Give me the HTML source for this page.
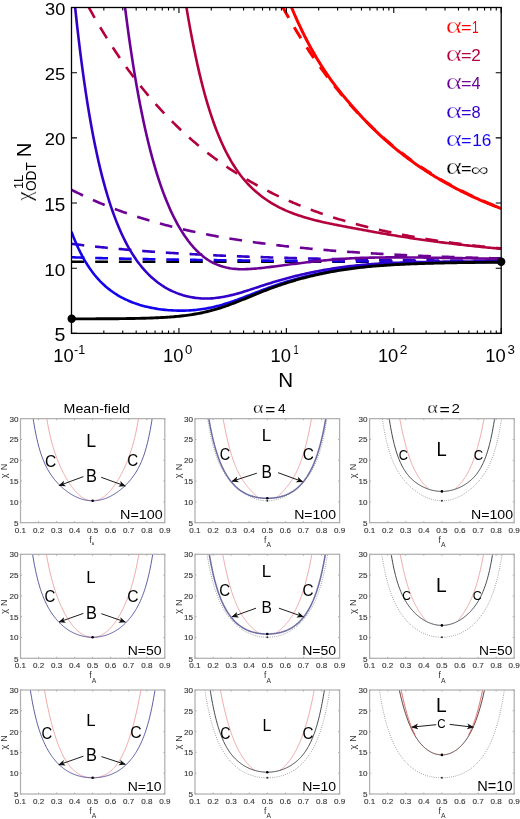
<!DOCTYPE html>
<html lang="en"><head><meta charset="utf-8"><title>Figure</title>
<style>html,body{margin:0;padding:0;background:#fff}svg{display:block}</style></head>
<body>
<svg width="520" height="819" viewBox="0 0 520 819" font-family='"Liberation Sans", sans-serif'>
<rect width="520" height="819" fill="#fff"/>
<defs><clipPath id="ct"><rect x="71.5" y="7.5" width="429.7" height="325.9"/></clipPath></defs>
<g clip-path="url(#ct)" fill="none" stroke-width="2.6">
<path d="M71.5 261.77 L73.16 261.77 L74.82 261.77 L76.48 261.77 L78.14 261.77 L79.8 261.77 L81.45 261.77 L83.11 261.77 L84.77 261.77 L86.43 261.77 L88.09 261.77 L89.75 261.77 L91.41 261.77 L93.07 261.77 L94.73 261.77 L96.39 261.77 L98.05 261.77 L99.7 261.77 L101.36 261.77 L103.02 261.77 L104.68 261.77 L106.34 261.77 L108 261.77 L109.66 261.77 L111.32 261.77 L112.98 261.77 L114.64 261.77 L116.29 261.77 L117.95 261.77 L119.61 261.77 L121.27 261.77 L122.93 261.77 L124.59 261.77 L126.25 261.77 L127.91 261.77 L129.57 261.77 L131.23 261.77 L132.89 261.77 L134.54 261.77 L136.2 261.77 L137.86 261.77 L139.52 261.77 L141.18 261.77 L142.84 261.77 L144.5 261.77 L146.16 261.77 L147.82 261.77 L149.48 261.77 L151.14 261.77 L152.79 261.77 L154.45 261.77 L156.11 261.77 L157.77 261.77 L159.43 261.77 L161.09 261.77 L162.75 261.77 L164.41 261.77 L166.07 261.77 L167.73 261.77 L169.39 261.77 L171.04 261.77 L172.7 261.77 L174.36 261.77 L176.02 261.77 L177.68 261.77 L179.34 261.77 L181 261.77 L182.66 261.77 L184.32 261.77 L185.98 261.77 L187.64 261.77 L189.29 261.77 L190.95 261.77 L192.61 261.77 L194.27 261.77 L195.93 261.77 L197.59 261.77 L199.25 261.77 L200.91 261.77 L202.57 261.77 L204.23 261.77 L205.88 261.77 L207.54 261.77 L209.2 261.77 L210.86 261.77 L212.52 261.77 L214.18 261.77 L215.84 261.77 L217.5 261.77 L219.16 261.77 L220.82 261.77 L222.48 261.77 L224.13 261.77 L225.79 261.77 L227.45 261.77 L229.11 261.77 L230.77 261.77 L232.43 261.77 L234.09 261.77 L235.75 261.77 L237.41 261.77 L239.07 261.77 L240.73 261.77 L242.38 261.77 L244.04 261.77 L245.7 261.77 L247.36 261.77 L249.02 261.77 L250.68 261.77 L252.34 261.77 L254 261.77 L255.66 261.77 L257.32 261.77 L258.98 261.77 L260.63 261.77 L262.29 261.77 L263.95 261.77 L265.61 261.77 L267.27 261.77 L268.93 261.77 L270.59 261.77 L272.25 261.77 L273.91 261.77 L275.57 261.77 L277.23 261.77 L278.88 261.77 L280.54 261.77 L282.2 261.77 L283.86 261.77 L285.52 261.77 L287.18 261.77 L288.84 261.77 L290.5 261.77 L292.16 261.77 L293.82 261.77 L295.47 261.77 L297.13 261.77 L298.79 261.77 L300.45 261.77 L302.11 261.77 L303.77 261.77 L305.43 261.77 L307.09 261.77 L308.75 261.77 L310.41 261.77 L312.07 261.77 L313.72 261.77 L315.38 261.77 L317.04 261.77 L318.7 261.77 L320.36 261.77 L322.02 261.77 L323.68 261.77 L325.34 261.77 L327 261.77 L328.66 261.77 L330.32 261.77 L331.97 261.77 L333.63 261.77 L335.29 261.77 L336.95 261.77 L338.61 261.77 L340.27 261.77 L341.93 261.77 L343.59 261.77 L345.25 261.77 L346.91 261.77 L348.57 261.77 L350.22 261.77 L351.88 261.77 L353.54 261.77 L355.2 261.77 L356.86 261.77 L358.52 261.77 L360.18 261.77 L361.84 261.77 L363.5 261.77 L365.16 261.77 L366.82 261.77 L368.47 261.77 L370.13 261.77 L371.79 261.77 L373.45 261.77 L375.11 261.77 L376.77 261.77 L378.43 261.77 L380.09 261.77 L381.75 261.77 L383.41 261.77 L385.06 261.77 L386.72 261.77 L388.38 261.77 L390.04 261.77 L391.7 261.77 L393.36 261.77 L395.02 261.77 L396.68 261.77 L398.34 261.77 L400 261.77 L401.66 261.77 L403.31 261.77 L404.97 261.77 L406.63 261.77 L408.29 261.77 L409.95 261.77 L411.61 261.77 L413.27 261.77 L414.93 261.77 L416.59 261.77 L418.25 261.77 L419.91 261.77 L421.56 261.77 L423.22 261.77 L424.88 261.77 L426.54 261.77 L428.2 261.77 L429.86 261.77 L431.52 261.77 L433.18 261.77 L434.84 261.77 L436.5 261.77 L438.16 261.77 L439.81 261.77 L441.47 261.77 L443.13 261.77 L444.79 261.77 L446.45 261.77 L448.11 261.77 L449.77 261.77 L451.43 261.77 L453.09 261.77 L454.75 261.77 L456.41 261.77 L458.06 261.77 L459.72 261.77 L461.38 261.77 L463.04 261.77 L464.7 261.77 L466.36 261.77 L468.02 261.77 L469.68 261.77 L471.34 261.77 L473 261.77 L474.65 261.77 L476.31 261.77 L477.97 261.77 L479.63 261.77 L481.29 261.77 L482.95 261.77 L484.61 261.77 L486.27 261.77 L487.93 261.77 L489.59 261.77 L491.25 261.77 L492.9 261.77 L494.56 261.77 L496.22 261.77 L497.88 261.77 L499.54 261.77 L501.2 261.77" stroke="#000000" stroke-dasharray="12.8 10.9" stroke-dashoffset="0"/>
<path d="M71.5 257.27 L73.16 257.32 L74.82 257.37 L76.48 257.43 L78.14 257.48 L79.8 257.53 L81.45 257.58 L83.11 257.63 L84.77 257.68 L86.43 257.72 L88.09 257.77 L89.75 257.82 L91.41 257.87 L93.07 257.91 L94.73 257.96 L96.39 258 L98.05 258.05 L99.7 258.09 L101.36 258.13 L103.02 258.18 L104.68 258.22 L106.34 258.26 L108 258.3 L109.66 258.34 L111.32 258.38 L112.98 258.42 L114.64 258.46 L116.29 258.5 L117.95 258.54 L119.61 258.58 L121.27 258.62 L122.93 258.65 L124.59 258.69 L126.25 258.73 L127.91 258.76 L129.57 258.8 L131.23 258.83 L132.89 258.87 L134.54 258.9 L136.2 258.93 L137.86 258.97 L139.52 259 L141.18 259.03 L142.84 259.07 L144.5 259.1 L146.16 259.13 L147.82 259.16 L149.48 259.19 L151.14 259.22 L152.79 259.25 L154.45 259.28 L156.11 259.31 L157.77 259.34 L159.43 259.37 L161.09 259.4 L162.75 259.42 L164.41 259.45 L166.07 259.48 L167.73 259.51 L169.39 259.53 L171.04 259.56 L172.7 259.58 L174.36 259.61 L176.02 259.64 L177.68 259.66 L179.34 259.69 L181 259.71 L182.66 259.73 L184.32 259.76 L185.98 259.78 L187.64 259.81 L189.29 259.83 L190.95 259.85 L192.61 259.87 L194.27 259.9 L195.93 259.92 L197.59 259.94 L199.25 259.96 L200.91 259.98 L202.57 260 L204.23 260.02 L205.88 260.05 L207.54 260.07 L209.2 260.09 L210.86 260.11 L212.52 260.12 L214.18 260.14 L215.84 260.16 L217.5 260.18 L219.16 260.2 L220.82 260.22 L222.48 260.24 L224.13 260.26 L225.79 260.27 L227.45 260.29 L229.11 260.31 L230.77 260.33 L232.43 260.34 L234.09 260.36 L235.75 260.38 L237.41 260.39 L239.07 260.41 L240.73 260.42 L242.38 260.44 L244.04 260.46 L245.7 260.47 L247.36 260.49 L249.02 260.5 L250.68 260.52 L252.34 260.53 L254 260.55 L255.66 260.56 L257.32 260.57 L258.98 260.59 L260.63 260.6 L262.29 260.62 L263.95 260.63 L265.61 260.64 L267.27 260.66 L268.93 260.67 L270.59 260.68 L272.25 260.7 L273.91 260.71 L275.57 260.72 L277.23 260.73 L278.88 260.75 L280.54 260.76 L282.2 260.77 L283.86 260.78 L285.52 260.79 L287.18 260.8 L288.84 260.82 L290.5 260.83 L292.16 260.84 L293.82 260.85 L295.47 260.86 L297.13 260.87 L298.79 260.88 L300.45 260.89 L302.11 260.9 L303.77 260.91 L305.43 260.92 L307.09 260.93 L308.75 260.94 L310.41 260.95 L312.07 260.96 L313.72 260.97 L315.38 260.98 L317.04 260.99 L318.7 261 L320.36 261.01 L322.02 261.02 L323.68 261.02 L325.34 261.03 L327 261.04 L328.66 261.05 L330.32 261.06 L331.97 261.07 L333.63 261.08 L335.29 261.08 L336.95 261.09 L338.61 261.1 L340.27 261.11 L341.93 261.12 L343.59 261.12 L345.25 261.13 L346.91 261.14 L348.57 261.15 L350.22 261.15 L351.88 261.16 L353.54 261.17 L355.2 261.17 L356.86 261.18 L358.52 261.19 L360.18 261.2 L361.84 261.2 L363.5 261.21 L365.16 261.22 L366.82 261.22 L368.47 261.23 L370.13 261.23 L371.79 261.24 L373.45 261.25 L375.11 261.25 L376.77 261.26 L378.43 261.27 L380.09 261.27 L381.75 261.28 L383.41 261.28 L385.06 261.29 L386.72 261.29 L388.38 261.3 L390.04 261.31 L391.7 261.31 L393.36 261.32 L395.02 261.32 L396.68 261.33 L398.34 261.33 L400 261.34 L401.66 261.34 L403.31 261.35 L404.97 261.35 L406.63 261.36 L408.29 261.36 L409.95 261.37 L411.61 261.37 L413.27 261.38 L414.93 261.38 L416.59 261.39 L418.25 261.39 L419.91 261.39 L421.56 261.4 L423.22 261.4 L424.88 261.41 L426.54 261.41 L428.2 261.42 L429.86 261.42 L431.52 261.42 L433.18 261.43 L434.84 261.43 L436.5 261.44 L438.16 261.44 L439.81 261.44 L441.47 261.45 L443.13 261.45 L444.79 261.45 L446.45 261.46 L448.11 261.46 L449.77 261.47 L451.43 261.47 L453.09 261.47 L454.75 261.48 L456.41 261.48 L458.06 261.48 L459.72 261.49 L461.38 261.49 L463.04 261.49 L464.7 261.5 L466.36 261.5 L468.02 261.5 L469.68 261.51 L471.34 261.51 L473 261.51 L474.65 261.51 L476.31 261.52 L477.97 261.52 L479.63 261.52 L481.29 261.53 L482.95 261.53 L484.61 261.53 L486.27 261.53 L487.93 261.54 L489.59 261.54 L491.25 261.54 L492.9 261.55 L494.56 261.55 L496.22 261.55 L497.88 261.55 L499.54 261.56 L501.2 261.56" stroke="#1404ee" stroke-dasharray="12.8 10.9" stroke-dashoffset="0"/>
<path d="M71.5 243.78 L73.16 243.99 L74.82 244.2 L76.48 244.4 L78.14 244.61 L79.8 244.81 L81.45 245.01 L83.11 245.21 L84.77 245.4 L86.43 245.6 L88.09 245.79 L89.75 245.97 L91.41 246.16 L93.07 246.34 L94.73 246.53 L96.39 246.71 L98.05 246.88 L99.7 247.06 L101.36 247.23 L103.02 247.4 L104.68 247.57 L106.34 247.74 L108 247.91 L109.66 248.07 L111.32 248.23 L112.98 248.39 L114.64 248.55 L116.29 248.7 L117.95 248.86 L119.61 249.01 L121.27 249.16 L122.93 249.31 L124.59 249.45 L126.25 249.6 L127.91 249.74 L129.57 249.88 L131.23 250.02 L132.89 250.16 L134.54 250.3 L136.2 250.44 L137.86 250.57 L139.52 250.7 L141.18 250.83 L142.84 250.96 L144.5 251.09 L146.16 251.21 L147.82 251.34 L149.48 251.46 L151.14 251.58 L152.79 251.7 L154.45 251.82 L156.11 251.94 L157.77 252.05 L159.43 252.17 L161.09 252.28 L162.75 252.39 L164.41 252.5 L166.07 252.61 L167.73 252.72 L169.39 252.83 L171.04 252.93 L172.7 253.04 L174.36 253.14 L176.02 253.24 L177.68 253.34 L179.34 253.44 L181 253.54 L182.66 253.64 L184.32 253.73 L185.98 253.83 L187.64 253.92 L189.29 254.01 L190.95 254.1 L192.61 254.19 L194.27 254.28 L195.93 254.37 L197.59 254.46 L199.25 254.54 L200.91 254.63 L202.57 254.71 L204.23 254.8 L205.88 254.88 L207.54 254.96 L209.2 255.04 L210.86 255.12 L212.52 255.2 L214.18 255.28 L215.84 255.35 L217.5 255.43 L219.16 255.5 L220.82 255.58 L222.48 255.65 L224.13 255.72 L225.79 255.79 L227.45 255.86 L229.11 255.93 L230.77 256 L232.43 256.07 L234.09 256.14 L235.75 256.2 L237.41 256.27 L239.07 256.33 L240.73 256.4 L242.38 256.46 L244.04 256.52 L245.7 256.58 L247.36 256.65 L249.02 256.71 L250.68 256.77 L252.34 256.82 L254 256.88 L255.66 256.94 L257.32 257 L258.98 257.05 L260.63 257.11 L262.29 257.16 L263.95 257.22 L265.61 257.27 L267.27 257.32 L268.93 257.38 L270.59 257.43 L272.25 257.48 L273.91 257.53 L275.57 257.58 L277.23 257.63 L278.88 257.68 L280.54 257.73 L282.2 257.77 L283.86 257.82 L285.52 257.87 L287.18 257.91 L288.84 257.96 L290.5 258 L292.16 258.05 L293.82 258.09 L295.47 258.14 L297.13 258.18 L298.79 258.22 L300.45 258.26 L302.11 258.3 L303.77 258.34 L305.43 258.38 L307.09 258.42 L308.75 258.46 L310.41 258.5 L312.07 258.54 L313.72 258.58 L315.38 258.62 L317.04 258.65 L318.7 258.69 L320.36 258.73 L322.02 258.76 L323.68 258.8 L325.34 258.83 L327 258.87 L328.66 258.9 L330.32 258.94 L331.97 258.97 L333.63 259 L335.29 259.03 L336.95 259.07 L338.61 259.1 L340.27 259.13 L341.93 259.16 L343.59 259.19 L345.25 259.22 L346.91 259.25 L348.57 259.28 L350.22 259.31 L351.88 259.34 L353.54 259.37 L355.2 259.4 L356.86 259.42 L358.52 259.45 L360.18 259.48 L361.84 259.51 L363.5 259.53 L365.16 259.56 L366.82 259.59 L368.47 259.61 L370.13 259.64 L371.79 259.66 L373.45 259.69 L375.11 259.71 L376.77 259.74 L378.43 259.76 L380.09 259.78 L381.75 259.81 L383.41 259.83 L385.06 259.85 L386.72 259.88 L388.38 259.9 L390.04 259.92 L391.7 259.94 L393.36 259.96 L395.02 259.98 L396.68 260 L398.34 260.03 L400 260.05 L401.66 260.07 L403.31 260.09 L404.97 260.11 L406.63 260.13 L408.29 260.15 L409.95 260.16 L411.61 260.18 L413.27 260.2 L414.93 260.22 L416.59 260.24 L418.25 260.26 L419.91 260.27 L421.56 260.29 L423.22 260.31 L424.88 260.33 L426.54 260.34 L428.2 260.36 L429.86 260.38 L431.52 260.39 L433.18 260.41 L434.84 260.43 L436.5 260.44 L438.16 260.46 L439.81 260.47 L441.47 260.49 L443.13 260.5 L444.79 260.52 L446.45 260.53 L448.11 260.55 L449.77 260.56 L451.43 260.58 L453.09 260.59 L454.75 260.6 L456.41 260.62 L458.06 260.63 L459.72 260.64 L461.38 260.66 L463.04 260.67 L464.7 260.68 L466.36 260.7 L468.02 260.71 L469.68 260.72 L471.34 260.73 L473 260.75 L474.65 260.76 L476.31 260.77 L477.97 260.78 L479.63 260.79 L481.29 260.8 L482.95 260.82 L484.61 260.83 L486.27 260.84 L487.93 260.85 L489.59 260.86 L491.25 260.87 L492.9 260.88 L494.56 260.89 L496.22 260.9 L497.88 260.91 L499.54 260.92 L501.2 260.93" stroke="#3200c8" stroke-dasharray="12.8 10.9" stroke-dashoffset="0"/>
<path d="M71.5 189.8 L73.16 190.65 L74.82 191.48 L76.48 192.31 L78.14 193.13 L79.8 193.94 L81.45 194.74 L83.11 195.53 L84.77 196.31 L86.43 197.08 L88.09 197.84 L89.75 198.6 L91.41 199.34 L93.07 200.08 L94.73 200.8 L96.39 201.52 L98.05 202.23 L99.7 202.93 L101.36 203.63 L103.02 204.31 L104.68 204.99 L106.34 205.66 L108 206.32 L109.66 206.97 L111.32 207.62 L112.98 208.26 L114.64 208.89 L116.29 209.51 L117.95 210.13 L119.61 210.73 L121.27 211.34 L122.93 211.93 L124.59 212.52 L126.25 213.1 L127.91 213.67 L129.57 214.24 L131.23 214.8 L132.89 215.35 L134.54 215.9 L136.2 216.44 L137.86 216.97 L139.52 217.5 L141.18 218.02 L142.84 218.54 L144.5 219.05 L146.16 219.55 L147.82 220.05 L149.48 220.54 L151.14 221.03 L152.79 221.51 L154.45 221.98 L156.11 222.45 L157.77 222.91 L159.43 223.37 L161.09 223.82 L162.75 224.27 L164.41 224.71 L166.07 225.15 L167.73 225.58 L169.39 226.01 L171.04 226.43 L172.7 226.84 L174.36 227.26 L176.02 227.66 L177.68 228.06 L179.34 228.46 L181 228.85 L182.66 229.24 L184.32 229.62 L185.98 230 L187.64 230.38 L189.29 230.75 L190.95 231.11 L192.61 231.47 L194.27 231.83 L195.93 232.18 L197.59 232.53 L199.25 232.88 L200.91 233.22 L202.57 233.55 L204.23 233.89 L205.88 234.22 L207.54 234.54 L209.2 234.86 L210.86 235.18 L212.52 235.49 L214.18 235.8 L215.84 236.11 L217.5 236.41 L219.16 236.71 L220.82 237 L222.48 237.29 L224.13 237.58 L225.79 237.87 L227.45 238.15 L229.11 238.43 L230.77 238.7 L232.43 238.98 L234.09 239.24 L235.75 239.51 L237.41 239.77 L239.07 240.03 L240.73 240.29 L242.38 240.54 L244.04 240.79 L245.7 241.04 L247.36 241.28 L249.02 241.52 L250.68 241.76 L252.34 242 L254 242.23 L255.66 242.46 L257.32 242.69 L258.98 242.91 L260.63 243.13 L262.29 243.35 L263.95 243.57 L265.61 243.79 L267.27 244 L268.93 244.21 L270.59 244.41 L272.25 244.62 L273.91 244.82 L275.57 245.02 L277.23 245.22 L278.88 245.41 L280.54 245.61 L282.2 245.8 L283.86 245.98 L285.52 246.17 L287.18 246.35 L288.84 246.54 L290.5 246.71 L292.16 246.89 L293.82 247.07 L295.47 247.24 L297.13 247.41 L298.79 247.58 L300.45 247.75 L302.11 247.91 L303.77 248.08 L305.43 248.24 L307.09 248.4 L308.75 248.55 L310.41 248.71 L312.07 248.86 L313.72 249.02 L315.38 249.17 L317.04 249.32 L318.7 249.46 L320.36 249.61 L322.02 249.75 L323.68 249.89 L325.34 250.03 L327 250.17 L328.66 250.31 L330.32 250.44 L331.97 250.58 L333.63 250.71 L335.29 250.84 L336.95 250.97 L338.61 251.09 L340.27 251.22 L341.93 251.34 L343.59 251.47 L345.25 251.59 L346.91 251.71 L348.57 251.83 L350.22 251.94 L351.88 252.06 L353.54 252.17 L355.2 252.29 L356.86 252.4 L358.52 252.51 L360.18 252.62 L361.84 252.73 L363.5 252.83 L365.16 252.94 L366.82 253.04 L368.47 253.14 L370.13 253.25 L371.79 253.35 L373.45 253.45 L375.11 253.54 L376.77 253.64 L378.43 253.74 L380.09 253.83 L381.75 253.92 L383.41 254.02 L385.06 254.11 L386.72 254.2 L388.38 254.29 L390.04 254.38 L391.7 254.46 L393.36 254.55 L395.02 254.63 L396.68 254.72 L398.34 254.8 L400 254.88 L401.66 254.96 L403.31 255.04 L404.97 255.12 L406.63 255.2 L408.29 255.28 L409.95 255.36 L411.61 255.43 L413.27 255.51 L414.93 255.58 L416.59 255.65 L418.25 255.72 L419.91 255.8 L421.56 255.87 L423.22 255.94 L424.88 256 L426.54 256.07 L428.2 256.14 L429.86 256.21 L431.52 256.27 L433.18 256.34 L434.84 256.4 L436.5 256.46 L438.16 256.53 L439.81 256.59 L441.47 256.65 L443.13 256.71 L444.79 256.77 L446.45 256.83 L448.11 256.89 L449.77 256.94 L451.43 257 L453.09 257.06 L454.75 257.11 L456.41 257.17 L458.06 257.22 L459.72 257.27 L461.38 257.33 L463.04 257.38 L464.7 257.43 L466.36 257.48 L468.02 257.53 L469.68 257.58 L471.34 257.63 L473 257.68 L474.65 257.73 L476.31 257.78 L477.97 257.82 L479.63 257.87 L481.29 257.92 L482.95 257.96 L484.61 258.01 L486.27 258.05 L487.93 258.09 L489.59 258.14 L491.25 258.18 L492.9 258.22 L494.56 258.26 L496.22 258.31 L497.88 258.35 L499.54 258.39 L501.2 258.43" stroke="#6c0094" stroke-dasharray="12.8 10.9" stroke-dashoffset="0"/>
<path d="M88.87 7.5 L90.47 10.38 L92.06 13.22 L93.65 16.03 L95.24 18.81 L96.83 21.56 L98.43 24.27 L100.02 26.96 L101.61 29.62 L103.2 32.24 L104.79 34.84 L106.39 37.4 L107.98 39.94 L109.57 42.45 L111.16 44.93 L112.75 47.38 L114.35 49.81 L115.94 52.21 L117.53 54.58 L119.12 56.92 L120.71 59.24 L122.31 61.53 L123.9 63.79 L125.49 66.03 L127.08 68.24 L128.67 70.43 L130.27 72.6 L131.86 74.74 L133.45 76.85 L135.04 78.94 L136.63 81.01 L138.23 83.05 L139.82 85.08 L141.41 87.07 L143 89.05 L144.59 91 L146.19 92.93 L147.78 94.84 L149.37 96.73 L150.96 98.6 L152.55 100.44 L154.15 102.27 L155.74 104.07 L157.33 105.86 L158.92 107.62 L160.51 109.36 L162.11 111.09 L163.7 112.79 L165.29 114.48 L166.88 116.14 L168.47 117.79 L170.07 119.42 L171.66 121.03 L173.25 122.62 L174.84 124.19 L176.43 125.75 L178.03 127.29 L179.62 128.81 L181.21 130.31 L182.8 131.8 L184.39 133.27 L185.99 134.72 L187.58 136.16 L189.17 137.58 L190.76 138.98 L192.35 140.37 L193.95 141.75 L195.54 143.1 L197.13 144.44 L198.72 145.77 L200.31 147.08 L201.91 148.38 L203.5 149.66 L205.09 150.93 L206.68 152.18 L208.27 153.42 L209.87 154.65 L211.46 155.86 L213.05 157.06 L214.64 158.24 L216.23 159.41 L217.83 160.57 L219.42 161.72 L221.01 162.85 L222.6 163.97 L224.19 165.07 L225.79 166.17 L227.38 167.25 L228.97 168.32 L230.56 169.37 L232.15 170.42 L233.75 171.45 L235.34 172.47 L236.93 173.48 L238.52 174.48 L240.11 175.47 L241.71 176.44 L243.3 177.41 L244.89 178.36 L246.48 179.31 L248.07 180.24 L249.67 181.16 L251.26 182.07 L252.85 182.97 L254.44 183.87 L256.03 184.75 L257.63 185.62 L259.22 186.48 L260.81 187.33 L262.4 188.17 L263.99 189 L265.59 189.83 L267.18 190.64 L268.77 191.45 L270.36 192.24 L271.95 193.03 L273.55 193.81 L275.14 194.57 L276.73 195.33 L278.32 196.08 L279.91 196.83 L281.51 197.56 L283.1 198.29 L284.69 199.01 L286.28 199.72 L287.87 200.42 L289.47 201.11 L291.06 201.8 L292.65 202.48 L294.24 203.15 L295.83 203.81 L297.43 204.47 L299.02 205.11 L300.61 205.75 L302.2 206.39 L303.79 207.01 L305.39 207.63 L306.98 208.25 L308.57 208.85 L310.16 209.45 L311.75 210.04 L313.35 210.63 L314.94 211.2 L316.53 211.78 L318.12 212.34 L319.71 212.9 L321.3 213.45 L322.9 214 L324.49 214.54 L326.08 215.07 L327.67 215.6 L329.26 216.12 L330.86 216.64 L332.45 217.15 L334.04 217.66 L335.63 218.15 L337.22 218.65 L338.82 219.14 L340.41 219.62 L342 220.09 L343.59 220.57 L345.18 221.03 L346.78 221.49 L348.37 221.95 L349.96 222.4 L351.55 222.84 L353.14 223.28 L354.74 223.72 L356.33 224.15 L357.92 224.57 L359.51 225 L361.1 225.41 L362.7 225.82 L364.29 226.23 L365.88 226.63 L367.47 227.03 L369.06 227.42 L370.66 227.81 L372.25 228.19 L373.84 228.57 L375.43 228.95 L377.02 229.32 L378.62 229.69 L380.21 230.05 L381.8 230.41 L383.39 230.76 L384.98 231.11 L386.58 231.46 L388.17 231.8 L389.76 232.14 L391.35 232.48 L392.94 232.81 L394.54 233.14 L396.13 233.46 L397.72 233.78 L399.31 234.1 L400.9 234.41 L402.5 234.72 L404.09 235.02 L405.68 235.33 L407.27 235.63 L408.86 235.92 L410.46 236.21 L412.05 236.5 L413.64 236.79 L415.23 237.07 L416.82 237.35 L418.42 237.63 L420.01 237.9 L421.6 238.17 L423.19 238.44 L424.78 238.7 L426.38 238.96 L427.97 239.22 L429.56 239.47 L431.15 239.73 L432.74 239.98 L434.34 240.22 L435.93 240.47 L437.52 240.71 L439.11 240.95 L440.7 241.18 L442.3 241.41 L443.89 241.64 L445.48 241.87 L447.07 242.1 L448.66 242.32 L450.26 242.54 L451.85 242.76 L453.44 242.97 L455.03 243.18 L456.62 243.39 L458.22 243.6 L459.81 243.81 L461.4 244.01 L462.99 244.21 L464.58 244.41 L466.18 244.61 L467.77 244.8 L469.36 244.99 L470.95 245.18 L472.54 245.37 L474.14 245.55 L475.73 245.74 L477.32 245.92 L478.91 246.1 L480.5 246.28 L482.1 246.45 L483.69 246.62 L485.28 246.8 L486.87 246.96 L488.46 247.13 L490.06 247.3 L491.65 247.46 L493.24 247.62 L494.83 247.78 L496.42 247.94 L498.02 248.1 L499.61 248.25 L501.2 248.41" stroke="#b4003c" stroke-dasharray="12.8 10.9" stroke-dashoffset="0.9"/>
<path d="M282.9 7.5 L283.75 9.03 L284.59 10.54 L285.43 12.05 L286.27 13.55 L287.12 15.04 L287.96 16.52 L288.8 18 L289.65 19.46 L290.49 20.91 L291.33 22.36 L292.17 23.8 L293.02 25.23 L293.86 26.65 L294.7 28.06 L295.55 29.46 L296.39 30.86 L297.23 32.24 L298.07 33.62 L298.92 34.99 L299.76 36.35 L300.6 37.7 L301.45 39.05 L302.29 40.39 L303.13 41.72 L303.97 43.04 L304.82 44.35 L305.66 45.66 L306.5 46.95 L307.35 48.24 L308.19 49.53 L309.03 50.8 L309.87 52.07 L310.72 53.33 L311.56 54.58 L312.4 55.82 L313.25 57.06 L314.09 58.29 L314.93 59.51 L315.77 60.72 L316.62 61.93 L317.46 63.13 L318.3 64.32 L319.15 65.51 L319.99 66.69 L320.83 67.86 L321.67 69.02 L322.52 70.18 L323.36 71.33 L324.2 72.47 L325.05 73.61 L325.89 74.74 L326.73 75.86 L327.57 76.98 L328.42 78.09 L329.26 79.19 L330.1 80.29 L330.95 81.37 L331.79 82.46 L332.63 83.53 L333.47 84.6 L334.32 85.67 L335.16 86.73 L336 87.78 L336.85 88.82 L337.69 89.86 L338.53 90.89 L339.37 91.92 L340.22 92.94 L341.06 93.95 L341.9 94.96 L342.75 95.96 L343.59 96.96 L344.43 97.94 L345.27 98.93 L346.12 99.91 L346.96 100.88 L347.8 101.84 L348.65 102.8 L349.49 103.76 L350.33 104.71 L351.17 105.65 L352.02 106.59 L352.86 107.52 L353.7 108.44 L354.54 109.37 L355.39 110.28 L356.23 111.19 L357.07 112.09 L357.92 112.99 L358.76 113.89 L359.6 114.77 L360.44 115.66 L361.29 116.53 L362.13 117.41 L362.97 118.27 L363.82 119.13 L364.66 119.99 L365.5 120.84 L366.34 121.69 L367.19 122.53 L368.03 123.36 L368.87 124.2 L369.72 125.02 L370.56 125.84 L371.4 126.66 L372.24 127.47 L373.09 128.28 L373.93 129.08 L374.77 129.87 L375.62 130.67 L376.46 131.45 L377.3 132.24 L378.14 133.01 L378.99 133.79 L379.83 134.55 L380.67 135.32 L381.52 136.08 L382.36 136.83 L383.2 137.58 L384.04 138.33 L384.89 139.07 L385.73 139.81 L386.57 140.54 L387.42 141.27 L388.26 141.99 L389.1 142.71 L389.94 143.42 L390.79 144.13 L391.63 144.84 L392.47 145.54 L393.32 146.24 L394.16 146.93 L395 147.62 L395.84 148.31 L396.69 148.99 L397.53 149.67 L398.37 150.34 L399.22 151.01 L400.06 151.67 L400.9 152.33 L401.74 152.99 L402.59 153.64 L403.43 154.29 L404.27 154.94 L405.12 155.58 L405.96 156.22 L406.8 156.85 L407.64 157.48 L408.49 158.11 L409.33 158.73 L410.17 159.35 L411.02 159.96 L411.86 160.57 L412.7 161.18 L413.54 161.79 L414.39 162.39 L415.23 162.98 L416.07 163.58 L416.92 164.17 L417.76 164.75 L418.6 165.33 L419.44 165.91 L420.29 166.49 L421.13 167.06 L421.97 167.63 L422.82 168.19 L423.66 168.76 L424.5 169.31 L425.34 169.87 L426.19 170.42 L427.03 170.97 L427.87 171.51 L428.72 172.06 L429.56 172.6 L430.4 173.13 L431.24 173.66 L432.09 174.19 L432.93 174.72 L433.77 175.24 L434.62 175.76 L435.46 176.28 L436.3 176.79 L437.14 177.3 L437.99 177.81 L438.83 178.31 L439.67 178.81 L440.52 179.31 L441.36 179.8 L442.2 180.3 L443.04 180.79 L443.89 181.27 L444.73 181.76 L445.57 182.24 L446.42 182.71 L447.26 183.19 L448.1 183.66 L448.94 184.13 L449.79 184.59 L450.63 185.06 L451.47 185.52 L452.31 185.98 L453.16 186.43 L454 186.88 L454.84 187.33 L455.69 187.78 L456.53 188.22 L457.37 188.67 L458.21 189.11 L459.06 189.54 L459.9 189.97 L460.74 190.41 L461.59 190.83 L462.43 191.26 L463.27 191.68 L464.11 192.1 L464.96 192.52 L465.8 192.94 L466.64 193.35 L467.49 193.76 L468.33 194.17 L469.17 194.58 L470.01 194.98 L470.86 195.38 L471.7 195.78 L472.54 196.18 L473.39 196.57 L474.23 196.96 L475.07 197.35 L475.91 197.74 L476.76 198.12 L477.6 198.5 L478.44 198.88 L479.29 199.26 L480.13 199.64 L480.97 200.01 L481.81 200.38 L482.66 200.75 L483.5 201.11 L484.34 201.48 L485.19 201.84 L486.03 202.2 L486.87 202.56 L487.71 202.91 L488.56 203.27 L489.4 203.62 L490.24 203.97 L491.09 204.31 L491.93 204.66 L492.77 205 L493.61 205.34 L494.46 205.68 L495.3 206.02 L496.14 206.35 L496.99 206.69 L497.83 207.02 L498.67 207.35 L499.51 207.67 L500.36 208 L501.2 208.32" stroke="#ff0000" stroke-dasharray="12.8 10.9" stroke-dashoffset="0.9" stroke-width="3"/>
<path d="M276.46 -35.22 L278.26 -29.49 L280.06 -23.96 L281.86 -18.6 L283.65 -13.42 L285.45 -8.42 L287.25 -3.57 L289.05 1.1 L290.84 5.62 L292.64 10 L294.44 14.23 L296.24 18.35 L298.04 22.34 L299.83 26.23 L301.63 30.01 L303.43 33.68 L305.23 37.26 L307.03 40.75 L308.82 44.14 L310.62 47.46 L312.42 50.69 L314.22 53.85 L316.02 56.93 L317.81 59.94 L319.61 62.89 L321.41 65.76 L323.21 68.55 L325.01 71.27 L326.8 73.92 L328.6 76.51 L330.4 79.04 L332.2 81.52 L333.99 83.94 L335.79 86.31 L337.59 88.64 L339.39 90.93 L341.19 93.18 L342.98 95.39 L344.78 97.57 L346.58 99.71 L348.38 101.83 L350.18 103.91 L351.97 105.98 L353.77 108.01 L355.57 110.03 L357.37 112.03 L359.17 114.01 L360.96 115.97 L362.76 117.91 L364.56 119.82 L366.36 121.7 L368.15 123.56 L369.95 125.38 L371.75 127.18 L373.55 128.95 L375.35 130.7 L377.14 132.42 L378.94 134.11 L380.74 135.78 L382.54 137.43 L384.34 139.05 L386.13 140.65 L387.93 142.23 L389.73 143.78 L391.53 145.32 L393.33 146.83 L395.12 148.32 L396.92 149.79 L398.72 151.23 L400.52 152.66 L402.32 154.07 L404.11 155.46 L405.91 156.83 L407.71 158.18 L409.51 159.52 L411.3 160.83 L413.1 162.13 L414.9 163.41 L416.7 164.67 L418.5 165.92 L420.29 167.15 L422.09 168.36 L423.89 169.55 L425.69 170.73 L427.49 171.9 L429.28 173.05 L431.08 174.18 L432.88 175.3 L434.68 176.41 L436.48 177.49 L438.27 178.57 L440.07 179.63 L441.87 180.68 L443.67 181.71 L445.46 182.73 L447.26 183.74 L449.06 184.73 L450.86 185.71 L452.66 186.68 L454.45 187.64 L456.25 188.58 L458.05 189.51 L459.85 190.43 L461.65 191.34 L463.44 192.23 L465.24 193.12 L467.04 193.99 L468.84 194.85 L470.64 195.7 L472.43 196.54 L474.23 197.37 L476.03 198.19 L477.83 198.99 L479.63 199.79 L481.42 200.58 L483.22 201.36 L485.02 202.12 L486.82 202.88 L488.61 203.63 L490.41 204.37 L492.21 205.09 L494.01 205.81 L495.81 206.52 L497.6 207.23 L499.4 207.92 L501.2 208.6" stroke="#ff0000" stroke-width="3.0" stroke-linejoin="round"/>
<path d="M179.37 -38.88 L181.17 -26.33 L182.97 -14.33 L184.77 -2.85 L186.57 8.13 L188.36 18.62 L190.16 28.63 L191.96 38.18 L193.76 47.3 L195.56 55.98 L197.35 64.25 L199.15 72.12 L200.95 79.6 L202.75 86.72 L204.55 93.47 L206.34 99.87 L208.14 105.94 L209.94 111.69 L211.74 117.12 L213.53 122.28 L215.33 127.2 L217.13 131.87 L218.93 136.31 L220.73 140.53 L222.52 144.54 L224.32 148.35 L226.12 151.98 L227.92 155.42 L229.72 158.7 L231.51 161.81 L233.31 164.76 L235.11 167.57 L236.91 170.24 L238.71 172.78 L240.5 175.19 L242.3 177.49 L244.1 179.67 L245.9 181.75 L247.69 183.73 L249.49 185.61 L251.29 187.41 L253.09 189.13 L254.89 190.77 L256.68 192.34 L258.48 193.84 L260.28 195.28 L262.08 196.67 L263.88 198 L265.67 199.27 L267.47 200.49 L269.27 201.67 L271.07 202.79 L272.87 203.88 L274.66 204.92 L276.46 205.91 L278.26 206.87 L280.06 207.79 L281.86 208.67 L283.65 209.52 L285.45 210.33 L287.25 211.11 L289.05 211.86 L290.84 212.58 L292.64 213.26 L294.44 213.92 L296.24 214.56 L298.04 215.18 L299.83 215.78 L301.63 216.36 L303.43 216.92 L305.23 217.46 L307.03 217.99 L308.82 218.5 L310.62 219 L312.42 219.48 L314.22 219.96 L316.02 220.42 L317.81 220.87 L319.61 221.31 L321.41 221.74 L323.21 222.15 L325.01 222.55 L326.8 222.95 L328.6 223.33 L330.4 223.71 L332.2 224.07 L333.99 224.44 L335.79 224.79 L337.59 225.14 L339.39 225.49 L341.19 225.83 L342.98 226.17 L344.78 226.51 L346.58 226.85 L348.38 227.18 L350.18 227.52 L351.97 227.85 L353.77 228.19 L355.57 228.52 L357.37 228.86 L359.17 229.19 L360.96 229.53 L362.76 229.87 L364.56 230.21 L366.36 230.54 L368.15 230.87 L369.95 231.2 L371.75 231.53 L373.55 231.85 L375.35 232.17 L377.14 232.49 L378.94 232.81 L380.74 233.13 L382.54 233.44 L384.34 233.75 L386.13 234.06 L387.93 234.37 L389.73 234.67 L391.53 234.98 L393.33 235.28 L395.12 235.57 L396.92 235.87 L398.72 236.16 L400.52 236.45 L402.32 236.74 L404.11 237.02 L405.91 237.3 L407.71 237.58 L409.51 237.86 L411.3 238.13 L413.1 238.41 L414.9 238.68 L416.7 238.94 L418.5 239.21 L420.29 239.47 L422.09 239.73 L423.89 239.98 L425.69 240.24 L427.49 240.49 L429.28 240.74 L431.08 240.98 L432.88 241.23 L434.68 241.47 L436.48 241.7 L438.27 241.94 L440.07 242.17 L441.87 242.41 L443.67 242.63 L445.46 242.86 L447.26 243.08 L449.06 243.31 L450.86 243.53 L452.66 243.74 L454.45 243.96 L456.25 244.17 L458.05 244.38 L459.85 244.59 L461.65 244.79 L463.44 245 L465.24 245.2 L467.04 245.4 L468.84 245.59 L470.64 245.79 L472.43 245.98 L474.23 246.17 L476.03 246.36 L477.83 246.54 L479.63 246.73 L481.42 246.91 L483.22 247.09 L485.02 247.27 L486.82 247.44 L488.61 247.62 L490.41 247.79 L492.21 247.96 L494.01 248.13 L495.81 248.29 L497.6 248.46 L499.4 248.62 L501.2 248.78" stroke="#b4003c" stroke-width="2.6" stroke-linejoin="round"/>
<path d="M120.04 -35.01 L121.84 -18.98 L123.64 -3.75 L125.44 10.71 L127.24 24.45 L129.03 37.5 L130.83 49.89 L132.63 61.66 L134.43 72.84 L136.22 83.47 L138.02 93.56 L139.82 103.16 L141.62 112.28 L143.42 120.95 L145.21 129.19 L147.01 137.03 L148.81 144.48 L150.61 151.56 L152.41 158.3 L154.2 164.71 L156 170.8 L157.8 176.6 L159.6 182.11 L161.4 187.35 L163.19 192.34 L164.99 197.08 L166.79 201.59 L168.59 205.87 L170.38 209.94 L172.18 213.81 L173.98 217.48 L175.78 220.97 L177.58 224.28 L179.37 227.43 L181.17 230.42 L182.97 233.27 L184.77 235.98 L186.57 238.55 L188.36 240.99 L190.16 243.3 L191.96 245.48 L193.76 247.54 L195.56 249.48 L197.35 251.31 L199.15 253.02 L200.95 254.62 L202.75 256.12 L204.55 257.51 L206.34 258.8 L208.14 260 L209.94 261.09 L211.74 262.1 L213.53 263.02 L215.33 263.87 L217.13 264.63 L218.93 265.33 L220.73 265.96 L222.52 266.53 L224.32 267.03 L226.12 267.47 L227.92 267.85 L229.72 268.18 L231.51 268.46 L233.31 268.69 L235.11 268.87 L236.91 269.01 L238.71 269.12 L240.5 269.18 L242.3 269.21 L244.1 269.2 L245.9 269.17 L247.69 269.11 L249.49 269.03 L251.29 268.92 L253.09 268.8 L254.89 268.65 L256.68 268.5 L258.48 268.32 L260.28 268.14 L262.08 267.95 L263.88 267.75 L265.67 267.54 L267.47 267.33 L269.27 267.11 L271.07 266.88 L272.87 266.66 L274.66 266.43 L276.46 266.19 L278.26 265.96 L280.06 265.73 L281.86 265.49 L283.65 265.25 L285.45 265.02 L287.25 264.78 L289.05 264.55 L290.84 264.31 L292.64 264.08 L294.44 263.85 L296.24 263.62 L298.04 263.39 L299.83 263.17 L301.63 262.94 L303.43 262.73 L305.23 262.51 L307.03 262.3 L308.82 262.09 L310.62 261.88 L312.42 261.68 L314.22 261.48 L316.02 261.29 L317.81 261.1 L319.61 260.91 L321.41 260.73 L323.21 260.55 L325.01 260.37 L326.8 260.2 L328.6 260.04 L330.4 259.87 L332.2 259.71 L333.99 259.56 L335.79 259.41 L337.59 259.27 L339.39 259.13 L341.19 259 L342.98 258.87 L344.78 258.75 L346.58 258.63 L348.38 258.52 L350.18 258.42 L351.97 258.32 L353.77 258.23 L355.57 258.15 L357.37 258.07 L359.17 257.99 L360.96 257.92 L362.76 257.86 L364.56 257.8 L366.36 257.75 L368.15 257.7 L369.95 257.65 L371.75 257.61 L373.55 257.58 L375.35 257.54 L377.14 257.51 L378.94 257.49 L380.74 257.47 L382.54 257.45 L384.34 257.43 L386.13 257.42 L387.93 257.41 L389.73 257.4 L391.53 257.39 L393.33 257.39 L395.12 257.39 L396.92 257.39 L398.72 257.39 L400.52 257.4 L402.32 257.4 L404.11 257.41 L405.91 257.42 L407.71 257.43 L409.51 257.45 L411.3 257.46 L413.1 257.48 L414.9 257.49 L416.7 257.51 L418.5 257.53 L420.29 257.55 L422.09 257.57 L423.89 257.59 L425.69 257.61 L427.49 257.63 L429.28 257.66 L431.08 257.68 L432.88 257.71 L434.68 257.73 L436.48 257.76 L438.27 257.78 L440.07 257.81 L441.87 257.84 L443.67 257.87 L445.46 257.89 L447.26 257.92 L449.06 257.95 L450.86 257.98 L452.66 258.01 L454.45 258.04 L456.25 258.07 L458.05 258.1 L459.85 258.13 L461.65 258.16 L463.44 258.19 L465.24 258.22 L467.04 258.25 L468.84 258.28 L470.64 258.31 L472.43 258.34 L474.23 258.37 L476.03 258.4 L477.83 258.43 L479.63 258.46 L481.42 258.49 L483.22 258.52 L485.02 258.55 L486.82 258.59 L488.61 258.62 L490.41 258.65 L492.21 258.68 L494.01 258.71 L495.81 258.74 L497.6 258.77 L499.4 258.8 L501.2 258.83" stroke="#6c0094" stroke-width="2.6" stroke-linejoin="round"/>
<path d="M71.5 -29.7 L73.3 -10.73 L75.1 7.06 L76.89 23.74 L78.69 39.4 L80.49 54.12 L82.29 67.94 L84.09 80.94 L85.88 93.18 L87.68 104.69 L89.48 115.54 L91.28 125.76 L93.07 135.4 L94.87 144.49 L96.67 153.07 L98.47 161.18 L100.27 168.83 L102.06 176.07 L103.86 182.91 L105.66 189.38 L107.46 195.5 L109.26 201.3 L111.05 206.79 L112.85 211.99 L114.65 216.92 L116.45 221.6 L118.25 226.04 L120.04 230.24 L121.84 234.24 L123.64 238.03 L125.44 241.63 L127.24 245.04 L129.03 248.29 L130.83 251.36 L132.63 254.28 L134.43 257.05 L136.22 259.68 L138.02 262.18 L139.82 264.55 L141.62 266.8 L143.42 268.93 L145.21 270.95 L147.01 272.87 L148.81 274.69 L150.61 276.42 L152.41 278.05 L154.2 279.6 L156 281.07 L157.8 282.46 L159.6 283.77 L161.4 285.01 L163.19 286.18 L164.99 287.29 L166.79 288.33 L168.59 289.31 L170.38 290.23 L172.18 291.09 L173.98 291.9 L175.78 292.65 L177.58 293.35 L179.37 294 L181.17 294.61 L182.97 295.17 L184.77 295.68 L186.57 296.15 L188.36 296.58 L190.16 296.96 L191.96 297.3 L193.76 297.6 L195.56 297.86 L197.35 298.07 L199.15 298.25 L200.95 298.38 L202.75 298.47 L204.55 298.52 L206.34 298.54 L208.14 298.51 L209.94 298.45 L211.74 298.34 L213.53 298.2 L215.33 298.03 L217.13 297.83 L218.93 297.59 L220.73 297.32 L222.52 297.02 L224.32 296.7 L226.12 296.34 L227.92 295.96 L229.72 295.55 L231.51 295.12 L233.31 294.67 L235.11 294.2 L236.91 293.71 L238.71 293.2 L240.5 292.68 L242.3 292.14 L244.1 291.59 L245.9 291.03 L247.69 290.46 L249.49 289.88 L251.29 289.3 L253.09 288.71 L254.89 288.13 L256.68 287.54 L258.48 286.95 L260.28 286.36 L262.08 285.77 L263.88 285.19 L265.67 284.61 L267.47 284.04 L269.27 283.47 L271.07 282.91 L272.87 282.35 L274.66 281.8 L276.46 281.26 L278.26 280.73 L280.06 280.21 L281.86 279.69 L283.65 279.19 L285.45 278.69 L287.25 278.2 L289.05 277.72 L290.84 277.25 L292.64 276.78 L294.44 276.33 L296.24 275.88 L298.04 275.44 L299.83 275.01 L301.63 274.59 L303.43 274.18 L305.23 273.77 L307.03 273.38 L308.82 272.99 L310.62 272.6 L312.42 272.23 L314.22 271.87 L316.02 271.51 L317.81 271.16 L319.61 270.81 L321.41 270.48 L323.21 270.15 L325.01 269.83 L326.8 269.52 L328.6 269.21 L330.4 268.91 L332.2 268.62 L333.99 268.34 L335.79 268.07 L337.59 267.8 L339.39 267.54 L341.19 267.29 L342.98 267.04 L344.78 266.81 L346.58 266.58 L348.38 266.36 L350.18 266.15 L351.97 265.94 L353.77 265.74 L355.57 265.55 L357.37 265.37 L359.17 265.19 L360.96 265.02 L362.76 264.86 L364.56 264.7 L366.36 264.55 L368.15 264.41 L369.95 264.27 L371.75 264.13 L373.55 264.01 L375.35 263.89 L377.14 263.77 L378.94 263.66 L380.74 263.55 L382.54 263.45 L384.34 263.35 L386.13 263.25 L387.93 263.16 L389.73 263.08 L391.53 263 L393.33 262.92 L395.12 262.84 L396.92 262.77 L398.72 262.7 L400.52 262.63 L402.32 262.57 L404.11 262.51 L405.91 262.45 L407.71 262.4 L409.51 262.34 L411.3 262.29 L413.1 262.24 L414.9 262.2 L416.7 262.15 L418.5 262.11 L420.29 262.07 L422.09 262.03 L423.89 261.99 L425.69 261.95 L427.49 261.92 L429.28 261.89 L431.08 261.86 L432.88 261.83 L434.68 261.8 L436.48 261.77 L438.27 261.74 L440.07 261.72 L441.87 261.7 L443.67 261.67 L445.46 261.65 L447.26 261.63 L449.06 261.61 L450.86 261.59 L452.66 261.57 L454.45 261.56 L456.25 261.54 L458.05 261.53 L459.85 261.51 L461.65 261.5 L463.44 261.49 L465.24 261.47 L467.04 261.46 L468.84 261.45 L470.64 261.44 L472.43 261.43 L474.23 261.42 L476.03 261.41 L477.83 261.4 L479.63 261.4 L481.42 261.39 L483.22 261.38 L485.02 261.38 L486.82 261.37 L488.61 261.37 L490.41 261.36 L492.21 261.36 L494.01 261.35 L495.81 261.35 L497.6 261.34 L499.4 261.34 L501.2 261.34" stroke="#3200c8" stroke-width="2.6" stroke-linejoin="round"/>
<path d="M71.5 231.74 L73.3 236.48 L75.1 240.92 L76.89 245.09 L78.69 249 L80.49 252.68 L82.29 256.13 L84.09 259.38 L85.88 262.43 L87.68 265.31 L89.48 268.02 L91.28 270.57 L93.07 272.97 L94.87 275.24 L96.67 277.38 L98.47 279.4 L100.27 281.31 L102.06 283.11 L103.86 284.81 L105.66 286.43 L107.46 287.95 L109.26 289.39 L111.05 290.75 L112.85 292.04 L114.65 293.26 L116.45 294.42 L118.25 295.52 L120.04 296.56 L121.84 297.54 L123.64 298.47 L125.44 299.35 L127.24 300.19 L129.03 300.98 L130.83 301.73 L132.63 302.44 L134.43 303.11 L136.22 303.74 L138.02 304.33 L139.82 304.9 L141.62 305.42 L143.42 305.92 L145.21 306.39 L147.01 306.83 L148.81 307.24 L150.61 307.63 L152.41 307.99 L154.2 308.32 L156 308.63 L157.8 308.92 L159.6 309.18 L161.4 309.42 L163.19 309.64 L164.99 309.84 L166.79 310.01 L168.59 310.17 L170.38 310.3 L172.18 310.41 L173.98 310.5 L175.78 310.57 L177.58 310.62 L179.37 310.65 L181.17 310.65 L182.97 310.64 L184.77 310.61 L186.57 310.55 L188.36 310.48 L190.16 310.38 L191.96 310.26 L193.76 310.12 L195.56 309.95 L197.35 309.77 L199.15 309.55 L200.95 309.32 L202.75 309.06 L204.55 308.78 L206.34 308.47 L208.14 308.14 L209.94 307.78 L211.74 307.4 L213.53 307 L215.33 306.57 L217.13 306.13 L218.93 305.65 L220.73 305.16 L222.52 304.65 L224.32 304.11 L226.12 303.56 L227.92 302.99 L229.72 302.4 L231.51 301.79 L233.31 301.17 L235.11 300.53 L236.91 299.88 L238.71 299.22 L240.5 298.55 L242.3 297.87 L244.1 297.18 L245.9 296.49 L247.69 295.8 L249.49 295.1 L251.29 294.39 L253.09 293.69 L254.89 292.99 L256.68 292.3 L258.48 291.6 L260.28 290.91 L262.08 290.23 L263.88 289.55 L265.67 288.88 L267.47 288.21 L269.27 287.56 L271.07 286.91 L272.87 286.28 L274.66 285.65 L276.46 285.03 L278.26 284.43 L280.06 283.83 L281.86 283.25 L283.65 282.67 L285.45 282.11 L287.25 281.56 L289.05 281.01 L290.84 280.48 L292.64 279.96 L294.44 279.45 L296.24 278.95 L298.04 278.46 L299.83 277.97 L301.63 277.5 L303.43 277.04 L305.23 276.59 L307.03 276.15 L308.82 275.71 L310.62 275.29 L312.42 274.87 L314.22 274.46 L316.02 274.06 L317.81 273.67 L319.61 273.29 L321.41 272.92 L323.21 272.55 L325.01 272.19 L326.8 271.85 L328.6 271.51 L330.4 271.17 L332.2 270.85 L333.99 270.54 L335.79 270.23 L337.59 269.93 L339.39 269.64 L341.19 269.36 L342.98 269.09 L344.78 268.82 L346.58 268.57 L348.38 268.32 L350.18 268.08 L351.97 267.84 L353.77 267.62 L355.57 267.4 L357.37 267.19 L359.17 266.99 L360.96 266.8 L362.76 266.61 L364.56 266.43 L366.36 266.25 L368.15 266.08 L369.95 265.92 L371.75 265.77 L373.55 265.62 L375.35 265.47 L377.14 265.33 L378.94 265.2 L380.74 265.07 L382.54 264.95 L384.34 264.83 L386.13 264.71 L387.93 264.6 L389.73 264.5 L391.53 264.4 L393.33 264.3 L395.12 264.2 L396.92 264.11 L398.72 264.03 L400.52 263.94 L402.32 263.86 L404.11 263.78 L405.91 263.71 L407.71 263.64 L409.51 263.57 L411.3 263.5 L413.1 263.43 L414.9 263.37 L416.7 263.31 L418.5 263.25 L420.29 263.2 L422.09 263.14 L423.89 263.09 L425.69 263.04 L427.49 262.99 L429.28 262.95 L431.08 262.9 L432.88 262.86 L434.68 262.81 L436.48 262.77 L438.27 262.73 L440.07 262.7 L441.87 262.66 L443.67 262.62 L445.46 262.59 L447.26 262.56 L449.06 262.53 L450.86 262.5 L452.66 262.47 L454.45 262.44 L456.25 262.41 L458.05 262.38 L459.85 262.36 L461.65 262.33 L463.44 262.31 L465.24 262.29 L467.04 262.26 L468.84 262.24 L470.64 262.22 L472.43 262.2 L474.23 262.18 L476.03 262.16 L477.83 262.15 L479.63 262.13 L481.42 262.11 L483.22 262.1 L485.02 262.08 L486.82 262.07 L488.61 262.05 L490.41 262.04 L492.21 262.03 L494.01 262.01 L495.81 262 L497.6 261.99 L499.4 261.98 L501.2 261.97" stroke="#1404ee" stroke-width="2.6" stroke-linejoin="round"/>
<path d="M71.5 318.88 L73.3 318.88 L75.1 318.88 L76.89 318.87 L78.69 318.87 L80.49 318.87 L82.29 318.86 L84.09 318.86 L85.88 318.85 L87.68 318.85 L89.48 318.84 L91.28 318.84 L93.07 318.83 L94.87 318.83 L96.67 318.82 L98.47 318.81 L100.27 318.8 L102.06 318.79 L103.86 318.78 L105.66 318.77 L107.46 318.76 L109.26 318.75 L111.05 318.74 L112.85 318.73 L114.65 318.71 L116.45 318.7 L118.25 318.68 L120.04 318.66 L121.84 318.64 L123.64 318.62 L125.44 318.6 L127.24 318.57 L129.03 318.55 L130.83 318.52 L132.63 318.49 L134.43 318.46 L136.22 318.42 L138.02 318.38 L139.82 318.34 L141.62 318.3 L143.42 318.26 L145.21 318.21 L147.01 318.15 L148.81 318.1 L150.61 318.03 L152.41 317.97 L154.2 317.9 L156 317.82 L157.8 317.74 L159.6 317.65 L161.4 317.56 L163.19 317.46 L164.99 317.35 L166.79 317.24 L168.59 317.12 L170.38 316.99 L172.18 316.85 L173.98 316.7 L175.78 316.54 L177.58 316.37 L179.37 316.2 L181.17 316 L182.97 315.8 L184.77 315.58 L186.57 315.35 L188.36 315.11 L190.16 314.85 L191.96 314.58 L193.76 314.29 L195.56 313.98 L197.35 313.66 L199.15 313.32 L200.95 312.96 L202.75 312.59 L204.55 312.19 L206.34 311.78 L208.14 311.35 L209.94 310.9 L211.74 310.42 L213.53 309.93 L215.33 309.42 L217.13 308.89 L218.93 308.34 L220.73 307.77 L222.52 307.19 L224.32 306.59 L226.12 305.96 L227.92 305.33 L229.72 304.68 L231.51 304.01 L233.31 303.33 L235.11 302.64 L236.91 301.94 L238.71 301.23 L240.5 300.51 L242.3 299.78 L244.1 299.05 L245.9 298.31 L247.69 297.57 L249.49 296.83 L251.29 296.09 L253.09 295.35 L254.89 294.62 L256.68 293.88 L258.48 293.15 L260.28 292.43 L262.08 291.71 L263.88 291 L265.67 290.3 L267.47 289.61 L269.27 288.92 L271.07 288.25 L272.87 287.58 L274.66 286.93 L276.46 286.29 L278.26 285.66 L280.06 285.04 L281.86 284.43 L283.65 283.83 L285.45 283.25 L287.25 282.67 L289.05 282.11 L290.84 281.56 L292.64 281.02 L294.44 280.49 L296.24 279.97 L298.04 279.46 L299.83 278.96 L301.63 278.47 L303.43 278 L305.23 277.53 L307.03 277.07 L308.82 276.62 L310.62 276.18 L312.42 275.75 L314.22 275.33 L316.02 274.91 L317.81 274.51 L319.61 274.11 L321.41 273.73 L323.21 273.35 L325.01 272.98 L326.8 272.62 L328.6 272.27 L330.4 271.93 L332.2 271.59 L333.99 271.27 L335.79 270.95 L337.59 270.64 L339.39 270.34 L341.19 270.05 L342.98 269.77 L344.78 269.5 L346.58 269.23 L348.38 268.97 L350.18 268.72 L351.97 268.48 L353.77 268.25 L355.57 268.02 L357.37 267.8 L359.17 267.59 L360.96 267.39 L362.76 267.19 L364.56 267 L366.36 266.82 L368.15 266.64 L369.95 266.47 L371.75 266.31 L373.55 266.15 L375.35 266 L377.14 265.85 L378.94 265.71 L380.74 265.58 L382.54 265.45 L384.34 265.32 L386.13 265.2 L387.93 265.08 L389.73 264.97 L391.53 264.86 L393.33 264.76 L395.12 264.66 L396.92 264.56 L398.72 264.47 L400.52 264.38 L402.32 264.29 L404.11 264.21 L405.91 264.13 L407.71 264.05 L409.51 263.97 L411.3 263.9 L413.1 263.83 L414.9 263.76 L416.7 263.7 L418.5 263.64 L420.29 263.57 L422.09 263.51 L423.89 263.46 L425.69 263.4 L427.49 263.35 L429.28 263.3 L431.08 263.25 L432.88 263.2 L434.68 263.15 L436.48 263.11 L438.27 263.06 L440.07 263.02 L441.87 262.98 L443.67 262.94 L445.46 262.9 L447.26 262.87 L449.06 262.83 L450.86 262.8 L452.66 262.76 L454.45 262.73 L456.25 262.7 L458.05 262.67 L459.85 262.64 L461.65 262.61 L463.44 262.58 L465.24 262.56 L467.04 262.53 L468.84 262.51 L470.64 262.48 L472.43 262.46 L474.23 262.44 L476.03 262.42 L477.83 262.39 L479.63 262.37 L481.42 262.35 L483.22 262.34 L485.02 262.32 L486.82 262.3 L488.61 262.28 L490.41 262.27 L492.21 262.25 L494.01 262.23 L495.81 262.22 L497.6 262.2 L499.4 262.19 L501.2 262.18" stroke="#000000" stroke-width="2.9" stroke-linejoin="round"/>
</g>
<g stroke="#000" stroke-width="1.3" fill="none">
<rect x="71.5" y="7.5" width="429.7" height="325.9"/>
<path d="M71.5 333.4v-5.5M71.5 7.5v5.5M103.84 333.4v-3M103.84 7.5v3M122.75 333.4v-3M122.75 7.5v3M136.18 333.4v-3M136.18 7.5v3M146.59 333.4v-3M146.59 7.5v3M155.09 333.4v-3M155.09 7.5v3M162.28 333.4v-3M162.28 7.5v3M168.51 333.4v-3M168.51 7.5v3M174.01 333.4v-3M174.01 7.5v3M178.93 333.4v-5.5M178.93 7.5v5.5M211.26 333.4v-3M211.26 7.5v3M230.18 333.4v-3M230.18 7.5v3M243.6 333.4v-3M243.6 7.5v3M254.01 333.4v-3M254.01 7.5v3M262.52 333.4v-3M262.52 7.5v3M269.71 333.4v-3M269.71 7.5v3M275.94 333.4v-3M275.94 7.5v3M281.43 333.4v-3M281.43 7.5v3M286.35 333.4v-5.5M286.35 7.5v5.5M318.69 333.4v-3M318.69 7.5v3M337.6 333.4v-3M337.6 7.5v3M351.03 333.4v-3M351.03 7.5v3M361.44 333.4v-3M361.44 7.5v3M369.94 333.4v-3M369.94 7.5v3M377.13 333.4v-3M377.13 7.5v3M383.36 333.4v-3M383.36 7.5v3M388.86 333.4v-3M388.86 7.5v3M393.77 333.4v-5.5M393.77 7.5v5.5M426.11 333.4v-3M426.11 7.5v3M445.03 333.4v-3M445.03 7.5v3M458.45 333.4v-3M458.45 7.5v3M468.86 333.4v-3M468.86 7.5v3M477.37 333.4v-3M477.37 7.5v3M484.56 333.4v-3M484.56 7.5v3M490.79 333.4v-3M490.79 7.5v3M496.28 333.4v-3M496.28 7.5v3M501.2 333.4v-5.5M501.2 7.5v5.5M71.5 333.4h5.5M501.2 333.4h-5.5M71.5 268.22h5.5M501.2 268.22h-5.5M71.5 203.04h5.5M501.2 203.04h-5.5M71.5 137.86h5.5M501.2 137.86h-5.5M71.5 72.68h5.5M501.2 72.68h-5.5M71.5 7.5h5.5M501.2 7.5h-5.5" stroke-width="1.1"/>
</g>
<circle cx="71.7" cy="318.75" r="4.2"/><circle cx="501.2" cy="261.8" r="4.2"/>
<text transform="translate(54.51,340.93) scale(1.122,1)" font-size="17.48" fill="#000" >5</text>
<text transform="translate(44.26,275.75) scale(1.100,1)" font-size="17.23" fill="#000" >10</text>
<text transform="translate(44.25,210.57) scale(1.087,1)" font-size="17.48" fill="#000" >15</text>
<text transform="translate(44.77,145.39) scale(1.072,1)" font-size="17.23" fill="#000" >20</text>
<text transform="translate(44.77,80.21) scale(1.075,1)" font-size="17.23" fill="#000" >25</text>
<text transform="translate(45,15.03) scale(1.060,1)" font-size="17.23" fill="#000" >30</text>
<text transform="translate(53.2,362.32) scale(1.015,1)" font-size="18.08" fill="#000" >10</text>
<text transform="translate(74.04,354.2) scale(0.960,1)" font-size="13.08" fill="#000" >-1</text>
<text transform="translate(163.03,362.32) scale(1.015,1)" font-size="18.08" fill="#000" >10</text>
<text transform="translate(185.11,354.17) scale(1.003,1)" font-size="13.14" fill="#000" >0</text>
<text transform="translate(270.45,362.32) scale(1.015,1)" font-size="18.08" fill="#000" >10</text>
<text transform="translate(293.54,354.2) scale(0.709,1)" font-size="13.08" fill="#000" >1</text>
<text transform="translate(377.88,362.32) scale(1.015,1)" font-size="18.08" fill="#000" >10</text>
<text transform="translate(399.78,354.17) scale(1.053,1)" font-size="13.14" fill="#000" >2</text>
<text transform="translate(485.3,362.32) scale(1.015,1)" font-size="18.08" fill="#000" >10</text>
<text transform="translate(507.39,354.17) scale(1.012,1)" font-size="13.14" fill="#000" >3</text>
<text transform="translate(278.31,386.5) scale(1.065,1)" font-size="19.33" fill="#000" >N</text>
<text transform="translate(30.7,200.88) rotate(-90) scale(1.031,1)" font-size="21.13" fill="#000" stroke="#fff" stroke-width="0.3" font-family='"Liberation Serif", serif'>χ</text>
<text transform="translate(36.45,191.05) rotate(-90) scale(0.880,1)" font-size="15.54" fill="#000" >ODT</text>
<text transform="translate(23.3,189.07) rotate(-90) scale(0.965,1)" font-size="13.23" fill="#000" >1L</text>
<text transform="translate(31.1,157.27) rotate(-90) scale(0.989,1)" font-size="20.64" fill="#000" >N</text>
<text transform="translate(445.72,32.57) scale(1.312,1)" font-size="23.68" fill="#ff0000" stroke="#fff" stroke-width="0.45" font-family='"Liberation Serif", serif'>α</text>
<text transform="translate(460.92,32.5) scale(1.103,1)" font-size="16.42" fill="#ff0000" >=</text>
<text transform="translate(471.98,32.5) scale(0.734,1)" font-size="16.42" fill="#ff0000" >1</text>
<text transform="translate(445.72,61.07) scale(1.312,1)" font-size="23.68" fill="#b4003c" stroke="#fff" stroke-width="0.45" font-family='"Liberation Serif", serif'>α</text>
<text transform="translate(460.92,61) scale(1.103,1)" font-size="16.42" fill="#b4003c" >=</text>
<text transform="translate(471.34,61.15) scale(1.044,1)" font-size="16.4" fill="#b4003c" >2</text>
<text transform="translate(445.72,89.47) scale(1.312,1)" font-size="23.68" fill="#6c0094" stroke="#fff" stroke-width="0.45" font-family='"Liberation Serif", serif'>α</text>
<text transform="translate(460.92,89.4) scale(1.103,1)" font-size="16.42" fill="#6c0094" >=</text>
<text transform="translate(471.43,89.4) scale(0.991,1)" font-size="16.42" fill="#6c0094" >4</text>
<text transform="translate(445.72,117.97) scale(1.312,1)" font-size="23.68" fill="#3200c8" stroke="#fff" stroke-width="0.45" font-family='"Liberation Serif", serif'>α</text>
<text transform="translate(460.92,117.9) scale(1.103,1)" font-size="16.42" fill="#3200c8" >=</text>
<text transform="translate(471.59,118.05) scale(1.001,1)" font-size="16.4" fill="#3200c8" >8</text>
<text transform="translate(445.72,145.87) scale(1.312,1)" font-size="23.68" fill="#1404ee" stroke="#fff" stroke-width="0.45" font-family='"Liberation Serif", serif'>α</text>
<text transform="translate(460.92,145.8) scale(1.103,1)" font-size="16.42" fill="#1404ee" >=</text>
<text transform="translate(472.19,145.95) scale(1.051,1)" font-size="16.4" fill="#1404ee" >16</text>
<text transform="translate(445.72,174.47) scale(1.312,1)" font-size="23.68" fill="#000000" stroke="#fff" stroke-width="0.45" font-family='"Liberation Serif", serif'>α</text>
<text transform="translate(460.92,174.4) scale(1.103,1)" font-size="16.42" fill="#000000" >=</text>
<text transform="translate(470.6,176.07) scale(1.365,1)" font-size="18.9" fill="#000000" stroke="#fff" stroke-width="0.4">∞</text>
<defs><marker id="ah" viewBox="0 0 10 10" refX="9" refY="5" markerWidth="7" markerHeight="7" markerUnits="userSpaceOnUse" orient="auto"><path d="M0 0.8L10 5L0 9.2L2.5 5z" fill="#111"/></marker></defs>
<g>
<clipPath id="c00"><rect x="20.5" y="418.65" width="144.3" height="104.0"/></clipPath>
<g clip-path="url(#c00)">
<path d="M45.83 412.41 L46.35 415.87 L46.88 419.13 L47.4 422.2 L47.93 425.11 L48.46 427.86 L48.98 430.47 L49.51 432.94 L50.04 435.29 L50.56 437.53 L51.09 439.67 L51.61 441.71 L52.14 443.67 L52.67 445.54 L53.19 447.34 L53.72 449.07 L54.24 450.74 L54.77 452.35 L55.3 453.9 L55.82 455.4 L56.35 456.86 L56.87 458.27 L57.4 459.64 L57.93 460.97 L58.45 462.27 L58.98 463.53 L59.51 464.76 L60.03 465.96 L60.56 467.13 L61.08 468.28 L61.61 469.39 L62.14 470.48 L62.66 471.55 L63.19 472.59 L63.71 473.61 L64.24 474.61 L64.77 475.59 L65.29 476.55 L65.82 477.48 L66.34 478.4 L66.87 479.29 L67.4 480.17 L67.92 481.02 L68.45 481.86 L68.98 482.68 L69.5 483.48 L70.03 484.26 L70.55 485.02 L71.08 485.76 L71.61 486.49 L72.13 487.2 L72.66 487.89 L73.18 488.56 L73.71 489.21 L74.24 489.85 L74.76 490.46 L75.29 491.06 L75.81 491.64 L76.34 492.21 L76.87 492.75 L77.39 493.28 L77.92 493.79 L78.45 494.28 L78.97 494.76 L79.5 495.21 L80.02 495.65 L80.55 496.07 L81.08 496.47 L81.6 496.86 L82.13 497.22 L82.65 497.57 L83.18 497.9 L83.71 498.22 L84.23 498.51 L84.76 498.79 L85.28 499.05 L85.81 499.29 L86.34 499.51 L86.86 499.72 L87.39 499.91 L87.92 500.08 L88.44 500.23 L88.97 500.36 L89.49 500.48 L90.02 500.58 L90.55 500.66 L91.07 500.72 L91.6 500.76 L92.12 500.79 L92.65 500.8 L93.18 500.79 L93.7 500.76 L94.23 500.72 L94.75 500.66 L95.28 500.58 L95.81 500.48 L96.33 500.36 L96.86 500.23 L97.38 500.08 L97.91 499.91 L98.44 499.72 L98.96 499.51 L99.49 499.29 L100.02 499.05 L100.54 498.79 L101.07 498.51 L101.59 498.22 L102.12 497.9 L102.65 497.57 L103.17 497.22 L103.7 496.86 L104.22 496.47 L104.75 496.07 L105.28 495.65 L105.8 495.21 L106.33 494.76 L106.85 494.28 L107.38 493.79 L107.91 493.28 L108.43 492.75 L108.96 492.21 L109.49 491.64 L110.01 491.06 L110.54 490.46 L111.06 489.85 L111.59 489.21 L112.12 488.56 L112.64 487.89 L113.17 487.2 L113.69 486.49 L114.22 485.76 L114.75 485.02 L115.27 484.26 L115.8 483.48 L116.32 482.68 L116.85 481.86 L117.38 481.02 L117.9 480.17 L118.43 479.29 L118.96 478.4 L119.48 477.48 L120.01 476.55 L120.53 475.59 L121.06 474.61 L121.59 473.61 L122.11 472.59 L122.64 471.55 L123.16 470.48 L123.69 469.39 L124.22 468.28 L124.74 467.13 L125.27 465.96 L125.79 464.76 L126.32 463.53 L126.85 462.27 L127.37 460.97 L127.9 459.64 L128.43 458.27 L128.95 456.86 L129.48 455.4 L130 453.9 L130.53 452.35 L131.06 450.74 L131.58 449.07 L132.11 447.34 L132.63 445.54 L133.16 443.67 L133.69 441.71 L134.21 439.67 L134.74 437.53 L135.26 435.29 L135.79 432.94 L136.32 430.47 L136.84 427.86 L137.37 425.11 L137.9 422.2 L138.42 419.13 L138.95 415.87 L139.47 412.41" fill="none" stroke="#ec8484" stroke-width="0.7" stroke-linejoin="round"/>
<path d="M32.27 412.65 L32.95 417.34 L33.63 421.71 L34.31 425.77 L34.99 429.56 L35.67 433.09 L36.35 436.39 L37.02 439.46 L37.7 442.34 L38.38 445.03 L39.06 447.55 L39.74 449.91 L40.42 452.13 L41.09 454.22 L41.77 456.19 L42.45 458.04 L43.13 459.79 L43.81 461.44 L44.49 463.01 L45.16 464.5 L45.84 465.92 L46.52 467.26 L47.2 468.55 L47.88 469.77 L48.56 470.95 L49.23 472.07 L49.91 473.15 L50.59 474.18 L51.27 475.18 L51.95 476.14 L52.63 477.07 L53.3 477.97 L53.98 478.83 L54.66 479.67 L55.34 480.49 L56.02 481.28 L56.7 482.04 L57.37 482.79 L58.05 483.51 L58.73 484.21 L59.41 484.9 L60.09 485.56 L60.77 486.21 L61.44 486.84 L62.12 487.45 L62.8 488.05 L63.48 488.64 L64.16 489.2 L64.84 489.76 L65.52 490.29 L66.19 490.82 L66.87 491.33 L67.55 491.82 L68.23 492.3 L68.91 492.77 L69.59 493.23 L70.26 493.67 L70.94 494.09 L71.62 494.51 L72.3 494.91 L72.98 495.29 L73.66 495.67 L74.33 496.03 L75.01 496.38 L75.69 496.71 L76.37 497.03 L77.05 497.34 L77.73 497.63 L78.4 497.91 L79.08 498.18 L79.76 498.44 L80.44 498.68 L81.12 498.91 L81.8 499.12 L82.47 499.33 L83.15 499.52 L83.83 499.69 L84.51 499.86 L85.19 500.01 L85.87 500.15 L86.54 500.27 L87.22 500.38 L87.9 500.48 L88.58 500.56 L89.26 500.64 L89.94 500.7 L90.61 500.74 L91.29 500.77 L91.97 500.79 L92.65 500.8 L93.33 500.79 L94.01 500.77 L94.69 500.74 L95.36 500.7 L96.04 500.64 L96.72 500.56 L97.4 500.48 L98.08 500.38 L98.76 500.27 L99.43 500.15 L100.11 500.01 L100.79 499.86 L101.47 499.69 L102.15 499.52 L102.83 499.33 L103.5 499.12 L104.18 498.91 L104.86 498.68 L105.54 498.44 L106.22 498.18 L106.9 497.91 L107.57 497.63 L108.25 497.34 L108.93 497.03 L109.61 496.71 L110.29 496.38 L110.97 496.03 L111.64 495.67 L112.32 495.29 L113 494.91 L113.68 494.51 L114.36 494.09 L115.04 493.67 L115.71 493.23 L116.39 492.77 L117.07 492.3 L117.75 491.82 L118.43 491.33 L119.11 490.82 L119.78 490.29 L120.46 489.76 L121.14 489.2 L121.82 488.64 L122.5 488.05 L123.18 487.45 L123.86 486.84 L124.53 486.21 L125.21 485.56 L125.89 484.9 L126.57 484.21 L127.25 483.51 L127.93 482.79 L128.6 482.04 L129.28 481.28 L129.96 480.49 L130.64 479.67 L131.32 478.83 L132 477.97 L132.67 477.07 L133.35 476.14 L134.03 475.18 L134.71 474.18 L135.39 473.15 L136.07 472.07 L136.74 470.95 L137.42 469.77 L138.1 468.55 L138.78 467.26 L139.46 465.92 L140.14 464.5 L140.81 463.01 L141.49 461.44 L142.17 459.79 L142.85 458.04 L143.53 456.19 L144.21 454.22 L144.88 452.13 L145.56 449.91 L146.24 447.55 L146.92 445.03 L147.6 442.34 L148.28 439.46 L148.95 436.39 L149.63 433.09 L150.31 429.56 L150.99 425.77 L151.67 421.71 L152.35 417.34 L153.03 412.65" fill="none" stroke="#4a4c9a" stroke-width="0.9" stroke-linejoin="round"/>
</g>
<circle cx="92.65" cy="500.8" r="1.3" fill="#000"/>
<path d="M20.5 522.65v-1.5M20.5 418.65v1.5M38.54 522.65v-1.5M38.54 418.65v1.5M56.58 522.65v-1.5M56.58 418.65v1.5M74.61 522.65v-1.5M74.61 418.65v1.5M92.65 522.65v-1.5M92.65 418.65v1.5M110.69 522.65v-1.5M110.69 418.65v1.5M128.73 522.65v-1.5M128.73 418.65v1.5M146.76 522.65v-1.5M146.76 418.65v1.5M164.8 522.65v-1.5M164.8 418.65v1.5M20.5 418.65h1.5M164.8 418.65h-1.5M20.5 439.45h1.5M164.8 439.45h-1.5M20.5 460.25h1.5M164.8 460.25h-1.5M20.5 481.05h1.5M164.8 481.05h-1.5M20.5 501.85h1.5M164.8 501.85h-1.5M20.5 522.65h1.5M164.8 522.65h-1.5" stroke="#777" stroke-width="0.6" fill="none"/>
<rect x="20.5" y="418.65" width="144.3" height="104.0" fill="none" stroke="#b0b0b0" stroke-width="1.25"/>
<g font-size="8.1" fill="#333" stroke="#333" stroke-width="0.12">
<text x="20.5" y="532.55" text-anchor="middle">0.1</text>
<text x="38.54" y="532.55" text-anchor="middle">0.2</text>
<text x="56.58" y="532.55" text-anchor="middle">0.3</text>
<text x="74.61" y="532.55" text-anchor="middle">0.4</text>
<text x="92.65" y="532.55" text-anchor="middle">0.5</text>
<text x="110.69" y="532.55" text-anchor="middle">0.6</text>
<text x="128.73" y="532.55" text-anchor="middle">0.7</text>
<text x="146.76" y="532.55" text-anchor="middle">0.8</text>
<text x="164.8" y="532.55" text-anchor="middle">0.9</text>
<text x="18.5" y="421.55" text-anchor="end">30</text>
<text x="18.5" y="442.35" text-anchor="end">25</text>
<text x="18.5" y="463.15" text-anchor="end">20</text>
<text x="18.5" y="483.95" text-anchor="end">15</text>
<text x="18.5" y="504.75" text-anchor="end">10</text>
<text x="18.5" y="526.05" text-anchor="end">5</text>
</g>
<text transform="translate(7.3,470.33) rotate(-90) scale(1.010,1)" font-size="8.87" fill="#333" >N</text>
<text transform="translate(6.89,478.19) rotate(-90) scale(0.989,1)" font-size="9.25" fill="#333" >χ</text>
<text x="89.35" y="542.55" font-size="8.5" fill="#333">f<tspan font-size="3.6" dy="2.4">A</tspan></text>
<line x1="83.4" y1="476.6" x2="59.1" y2="485.6" stroke="#111" stroke-width="0.95" marker-end="url(#ah)"/>
<line x1="101.2" y1="477.3" x2="125.2" y2="486" stroke="#111" stroke-width="0.95" marker-end="url(#ah)"/>
<text transform="translate(86.25,447.2) scale(1.006,1)" font-size="17.59" fill="#000" >L</text>
<text transform="translate(45.01,466.63) scale(0.907,1)" font-size="17.23" fill="#000" >C</text>
<text transform="translate(127.33,466.44) scale(0.910,1)" font-size="16.67" fill="#000" >C</text>
<text transform="translate(85.96,482.3) scale(0.893,1)" font-size="18.31" fill="#000" >B</text>
<text transform="translate(120.12,519.47) scale(1.106,1)" font-size="12.99" fill="#000" >N=100</text>
</g>
<g>
<clipPath id="c01"><rect x="195.0" y="418.65" width="144.6" height="104.0"/></clipPath>
<g clip-path="url(#c01)">
<path d="M206.74 412.45 L207.43 417.16 L208.11 421.55 L208.79 425.63 L209.47 429.43 L210.15 432.98 L210.83 436.29 L211.51 439.38 L212.19 442.27 L212.87 444.97 L213.55 447.5 L214.23 449.88 L214.91 452.11 L215.59 454.2 L216.27 456.18 L216.95 458.04 L217.63 459.8 L218.31 461.46 L218.99 463.03 L219.67 464.53 L220.35 465.95 L221.03 467.3 L221.71 468.59 L222.39 469.82 L223.07 471 L223.75 472.13 L224.44 473.21 L225.12 474.25 L225.8 475.25 L226.48 476.21 L227.16 477.14 L227.84 478.04 L228.52 478.91 L229.2 479.75 L229.88 480.56 L230.56 481.35 L231.24 482.12 L231.92 482.86 L232.6 483.58 L233.28 484.28 L233.96 484.97 L234.64 485.63 L235.32 486.28 L236 486.91 L236.68 487.52 L237.36 488.12 L238.04 488.7 L238.72 489.27 L239.4 489.82 L240.08 490.36 L240.76 490.88 L241.44 491.38 L242.13 491.88 L242.81 492.36 L243.49 492.82 L244.17 493.27 L244.85 493.71 L245.53 494.14 L246.21 494.55 L246.89 494.95 L247.57 495.33 L248.25 495.7 L248.93 496.06 L249.61 496.41 L250.29 496.74 L250.97 497.06 L251.65 497.36 L252.33 497.66 L253.01 497.94 L253.69 498.2 L254.37 498.46 L255.05 498.7 L255.73 498.92 L256.41 499.14 L257.09 499.34 L257.77 499.53 L258.45 499.7 L259.14 499.87 L259.82 500.01 L260.5 500.15 L261.18 500.27 L261.86 500.38 L262.54 500.48 L263.22 500.57 L263.9 500.64 L264.58 500.7 L265.26 500.74 L265.94 500.77 L266.62 500.79 L267.3 500.8 L267.98 500.79 L268.66 500.77 L269.34 500.74 L270.02 500.7 L270.7 500.64 L271.38 500.57 L272.06 500.48 L272.74 500.38 L273.42 500.27 L274.1 500.15 L274.78 500.01 L275.46 499.87 L276.15 499.7 L276.83 499.53 L277.51 499.34 L278.19 499.14 L278.87 498.92 L279.55 498.7 L280.23 498.46 L280.91 498.2 L281.59 497.94 L282.27 497.66 L282.95 497.36 L283.63 497.06 L284.31 496.74 L284.99 496.41 L285.67 496.06 L286.35 495.7 L287.03 495.33 L287.71 494.95 L288.39 494.55 L289.07 494.14 L289.75 493.71 L290.43 493.27 L291.11 492.82 L291.79 492.36 L292.47 491.88 L293.16 491.38 L293.84 490.88 L294.52 490.36 L295.2 489.82 L295.88 489.27 L296.56 488.7 L297.24 488.12 L297.92 487.52 L298.6 486.91 L299.28 486.28 L299.96 485.63 L300.64 484.97 L301.32 484.28 L302 483.58 L302.68 482.86 L303.36 482.12 L304.04 481.35 L304.72 480.56 L305.4 479.75 L306.08 478.91 L306.76 478.04 L307.44 477.14 L308.12 476.21 L308.8 475.25 L309.48 474.25 L310.16 473.21 L310.85 472.13 L311.53 471 L312.21 469.82 L312.89 468.59 L313.57 467.3 L314.25 465.95 L314.93 464.53 L315.61 463.03 L316.29 461.46 L316.97 459.8 L317.65 458.04 L318.33 456.18 L319.01 454.2 L319.69 452.11 L320.37 449.88 L321.05 447.5 L321.73 444.97 L322.41 442.27 L323.09 439.38 L323.77 436.29 L324.45 432.98 L325.13 429.43 L325.81 425.63 L326.49 421.55 L327.17 417.16 L327.86 412.45" fill="none" stroke="#707070" stroke-width="0.8" stroke-linejoin="round" stroke-dasharray="0.8 1.4"/>
<path d="M257.8 497.5 L257.4 497.11 L257 496.72 L256.6 496.33 L256.19 495.93 L255.79 495.54 L255.39 495.14 L254.99 494.74 L254.59 494.34 L254.19 493.94 L253.78 493.53 L253.38 493.12 L252.98 492.71 L252.58 492.29 L252.18 491.87 L251.78 491.45 L251.37 491.02 L250.97 490.59 L250.57 490.16 L250.17 489.71 L249.77 489.27 L249.37 488.82 L248.96 488.36 L248.56 487.89 L248.16 487.42 L247.76 486.94 L247.36 486.45 L246.96 485.96 L246.55 485.45 L246.15 484.94 L245.75 484.42 L245.35 483.89 L244.95 483.35 L244.55 482.79 L244.14 482.23 L243.74 481.65 L243.34 481.06 L242.94 480.46 L242.54 479.84 L242.14 479.21 L241.73 478.57 L241.33 477.9 L240.93 477.23 L240.53 476.53 L240.13 475.82 L239.73 475.09 L239.32 474.34 L238.92 473.57 L238.52 472.79 L238.12 471.98 L237.72 471.15 L237.32 470.29 L236.91 469.42 L236.51 468.52 L236.11 467.59 L235.71 466.64 L235.31 465.66 L234.91 464.66 L234.5 463.63 L234.1 462.57 L233.7 461.47 L233.3 460.35 L232.9 459.2 L232.5 458.01 L232.09 456.79 L231.69 455.54 L231.29 454.25 L230.89 452.93 L230.49 451.57 L230.09 450.17 L229.68 448.73 L229.28 447.25 L228.88 445.72 L228.48 444.16 L228.08 442.55 L227.68 440.9 L227.27 439.21 L226.87 437.46 L226.47 435.67 L226.07 433.83 L225.67 431.94 L225.27 430 L224.86 428.01 L224.46 425.96 L224.06 423.86 L223.66 421.7 L223.26 419.49 L222.86 417.22 L222.45 414.88 L222.05 412.49" fill="none" stroke="#ec8484" stroke-width="0.7" stroke-linejoin="round"/>
<path d="M276.8 497.5 L277.2 497.11 L277.6 496.72 L278 496.33 L278.41 495.93 L278.81 495.54 L279.21 495.14 L279.61 494.74 L280.01 494.34 L280.41 493.94 L280.82 493.53 L281.22 493.12 L281.62 492.71 L282.02 492.29 L282.42 491.87 L282.82 491.45 L283.23 491.02 L283.63 490.59 L284.03 490.16 L284.43 489.71 L284.83 489.27 L285.23 488.82 L285.64 488.36 L286.04 487.89 L286.44 487.42 L286.84 486.94 L287.24 486.45 L287.64 485.96 L288.05 485.45 L288.45 484.94 L288.85 484.42 L289.25 483.89 L289.65 483.35 L290.05 482.79 L290.46 482.23 L290.86 481.65 L291.26 481.06 L291.66 480.46 L292.06 479.84 L292.46 479.21 L292.87 478.57 L293.27 477.9 L293.67 477.23 L294.07 476.53 L294.47 475.82 L294.87 475.09 L295.28 474.34 L295.68 473.57 L296.08 472.79 L296.48 471.98 L296.88 471.15 L297.28 470.29 L297.69 469.42 L298.09 468.52 L298.49 467.59 L298.89 466.64 L299.29 465.66 L299.69 464.66 L300.1 463.63 L300.5 462.57 L300.9 461.47 L301.3 460.35 L301.7 459.2 L302.1 458.01 L302.51 456.79 L302.91 455.54 L303.31 454.25 L303.71 452.93 L304.11 451.57 L304.51 450.17 L304.92 448.73 L305.32 447.25 L305.72 445.72 L306.12 444.16 L306.52 442.55 L306.92 440.9 L307.33 439.21 L307.73 437.46 L308.13 435.67 L308.53 433.83 L308.93 431.94 L309.33 430 L309.74 428.01 L310.14 425.96 L310.54 423.86 L310.94 421.7 L311.34 419.49 L311.74 417.22 L312.15 414.88 L312.55 412.49" fill="none" stroke="#ec8484" stroke-width="0.7" stroke-linejoin="round"/>
<path d="M207.78 412.41 L208.45 416.56 L209.12 420.49 L209.79 424.19 L210.46 427.69 L211.12 430.99 L211.79 434.12 L212.46 437.09 L213.13 439.9 L213.8 442.56 L214.47 445.09 L215.14 447.5 L215.81 449.79 L216.47 451.96 L217.14 454.03 L217.81 456.01 L218.48 457.89 L219.15 459.69 L219.82 461.41 L220.49 463.05 L221.16 464.62 L221.82 466.13 L222.49 467.57 L223.16 468.94 L223.83 470.26 L224.5 471.53 L225.17 472.75 L225.84 473.91 L226.51 475.03 L227.17 476.1 L227.84 477.14 L228.51 478.13 L229.18 479.08 L229.85 479.99 L230.52 480.87 L231.19 481.72 L231.86 482.53 L232.52 483.31 L233.19 484.06 L233.86 484.78 L234.53 485.47 L235.2 486.13 L235.87 486.77 L236.54 487.38 L237.21 487.97 L237.87 488.54 L238.54 489.08 L239.21 489.6 L239.88 490.1 L240.55 490.57 L241.22 491.03 L241.89 491.47 L242.56 491.89 L243.22 492.29 L243.89 492.67 L244.56 493.04 L245.23 493.39 L245.9 493.73 L246.57 494.05 L247.24 494.35 L247.91 494.64 L248.57 494.92 L249.24 495.18 L249.91 495.43 L250.58 495.67 L251.25 495.89 L251.92 496.1 L252.59 496.3 L253.26 496.49 L253.92 496.67 L254.59 496.84 L255.26 497 L255.93 497.14 L256.6 497.28 L257.27 497.41 L257.94 497.53 L258.61 497.64 L259.27 497.74 L259.94 497.83 L260.61 497.91 L261.28 497.99 L261.95 498.05 L262.62 498.11 L263.29 498.16 L263.96 498.2 L264.62 498.24 L265.29 498.27 L265.96 498.28 L266.63 498.3 L267.3 498.3 L267.97 498.3 L268.64 498.28 L269.31 498.27 L269.98 498.24 L270.64 498.2 L271.31 498.16 L271.98 498.11 L272.65 498.05 L273.32 497.99 L273.99 497.91 L274.66 497.83 L275.33 497.74 L275.99 497.64 L276.66 497.53 L277.33 497.41 L278 497.28 L278.67 497.14 L279.34 497 L280.01 496.84 L280.68 496.67 L281.34 496.49 L282.01 496.3 L282.68 496.1 L283.35 495.89 L284.02 495.67 L284.69 495.43 L285.36 495.18 L286.03 494.92 L286.69 494.64 L287.36 494.35 L288.03 494.05 L288.7 493.73 L289.37 493.39 L290.04 493.04 L290.71 492.67 L291.38 492.29 L292.04 491.89 L292.71 491.47 L293.38 491.03 L294.05 490.57 L294.72 490.1 L295.39 489.6 L296.06 489.08 L296.73 488.54 L297.39 487.97 L298.06 487.38 L298.73 486.77 L299.4 486.13 L300.07 485.47 L300.74 484.78 L301.41 484.06 L302.08 483.31 L302.74 482.53 L303.41 481.72 L304.08 480.87 L304.75 479.99 L305.42 479.08 L306.09 478.13 L306.76 477.14 L307.43 476.1 L308.09 475.03 L308.76 473.91 L309.43 472.75 L310.1 471.53 L310.77 470.26 L311.44 468.94 L312.11 467.57 L312.78 466.13 L313.44 464.62 L314.11 463.05 L314.78 461.41 L315.45 459.69 L316.12 457.89 L316.79 456.01 L317.46 454.03 L318.13 451.96 L318.79 449.79 L319.46 447.5 L320.13 445.09 L320.8 442.56 L321.47 439.9 L322.14 437.09 L322.81 434.12 L323.48 430.99 L324.14 427.69 L324.81 424.19 L325.48 420.49 L326.15 416.56 L326.82 412.41" fill="none" stroke="#6e6ea4" stroke-width="1.55" stroke-linejoin="round"/>
</g>
<circle cx="267.3" cy="500.8" r="1.0" fill="#333"/>
<circle cx="267.3" cy="498.3" r="1.3" fill="#000"/>
<path d="M195 522.65v-1.5M195 418.65v1.5M213.07 522.65v-1.5M213.07 418.65v1.5M231.15 522.65v-1.5M231.15 418.65v1.5M249.22 522.65v-1.5M249.22 418.65v1.5M267.3 522.65v-1.5M267.3 418.65v1.5M285.38 522.65v-1.5M285.38 418.65v1.5M303.45 522.65v-1.5M303.45 418.65v1.5M321.52 522.65v-1.5M321.52 418.65v1.5M339.6 522.65v-1.5M339.6 418.65v1.5M195 418.65h1.5M339.6 418.65h-1.5M195 439.45h1.5M339.6 439.45h-1.5M195 460.25h1.5M339.6 460.25h-1.5M195 481.05h1.5M339.6 481.05h-1.5M195 501.85h1.5M339.6 501.85h-1.5M195 522.65h1.5M339.6 522.65h-1.5" stroke="#777" stroke-width="0.6" fill="none"/>
<rect x="195.0" y="418.65" width="144.6" height="104.0" fill="none" stroke="#b0b0b0" stroke-width="1.25"/>
<g font-size="8.1" fill="#333" stroke="#333" stroke-width="0.12">
<text x="195" y="532.55" text-anchor="middle">0.1</text>
<text x="213.07" y="532.55" text-anchor="middle">0.2</text>
<text x="231.15" y="532.55" text-anchor="middle">0.3</text>
<text x="249.22" y="532.55" text-anchor="middle">0.4</text>
<text x="267.3" y="532.55" text-anchor="middle">0.5</text>
<text x="285.38" y="532.55" text-anchor="middle">0.6</text>
<text x="303.45" y="532.55" text-anchor="middle">0.7</text>
<text x="321.52" y="532.55" text-anchor="middle">0.8</text>
<text x="339.6" y="532.55" text-anchor="middle">0.9</text>
<text x="193" y="421.55" text-anchor="end">30</text>
<text x="193" y="442.35" text-anchor="end">25</text>
<text x="193" y="463.15" text-anchor="end">20</text>
<text x="193" y="483.95" text-anchor="end">15</text>
<text x="193" y="504.75" text-anchor="end">10</text>
<text x="193" y="526.05" text-anchor="end">5</text>
</g>
<text transform="translate(181.8,470.33) rotate(-90) scale(1.010,1)" font-size="8.87" fill="#333" >N</text>
<text transform="translate(181.39,478.19) rotate(-90) scale(0.989,1)" font-size="9.25" fill="#333" >χ</text>
<text x="264" y="542.55" font-size="8.5" fill="#333">f<tspan font-size="6.8" dy="4.3">A</tspan></text>
<line x1="256.8" y1="473.2" x2="232.1" y2="481.3" stroke="#111" stroke-width="0.95" marker-end="url(#ah)"/>
<line x1="278.1" y1="472.7" x2="302.7" y2="481.7" stroke="#111" stroke-width="0.95" marker-end="url(#ah)"/>
<text transform="translate(261.8,440.8) scale(0.992,1)" font-size="17.15" fill="#000" >L</text>
<text transform="translate(219.76,460.04) scale(0.872,1)" font-size="16.67" fill="#000" >C</text>
<text transform="translate(302.71,460.04) scale(0.944,1)" font-size="16.38" fill="#000" >C</text>
<text transform="translate(261.62,477.8) scale(0.887,1)" font-size="17.59" fill="#000" >B</text>
<text transform="translate(294.25,519.17) scale(1.091,1)" font-size="12.85" fill="#000" >N=100</text>
</g>
<g>
<clipPath id="c02"><rect x="369.6" y="418.65" width="144.6" height="104.0"/></clipPath>
<g clip-path="url(#c02)">
<path d="M381.34 412.45 L382.03 417.16 L382.71 421.55 L383.39 425.63 L384.07 429.43 L384.75 432.98 L385.43 436.29 L386.11 439.38 L386.79 442.27 L387.47 444.97 L388.15 447.5 L388.83 449.88 L389.51 452.11 L390.19 454.2 L390.87 456.18 L391.55 458.04 L392.23 459.8 L392.91 461.46 L393.59 463.03 L394.27 464.53 L394.95 465.95 L395.63 467.3 L396.31 468.59 L396.99 469.82 L397.67 471 L398.35 472.13 L399.04 473.21 L399.72 474.25 L400.4 475.25 L401.08 476.21 L401.76 477.14 L402.44 478.04 L403.12 478.91 L403.8 479.75 L404.48 480.56 L405.16 481.35 L405.84 482.12 L406.52 482.86 L407.2 483.58 L407.88 484.28 L408.56 484.97 L409.24 485.63 L409.92 486.28 L410.6 486.91 L411.28 487.52 L411.96 488.12 L412.64 488.7 L413.32 489.27 L414 489.82 L414.68 490.36 L415.36 490.88 L416.04 491.38 L416.73 491.88 L417.41 492.36 L418.09 492.82 L418.77 493.27 L419.45 493.71 L420.13 494.14 L420.81 494.55 L421.49 494.95 L422.17 495.33 L422.85 495.7 L423.53 496.06 L424.21 496.41 L424.89 496.74 L425.57 497.06 L426.25 497.36 L426.93 497.66 L427.61 497.94 L428.29 498.2 L428.97 498.46 L429.65 498.7 L430.33 498.92 L431.01 499.14 L431.69 499.34 L432.37 499.53 L433.05 499.7 L433.74 499.87 L434.42 500.01 L435.1 500.15 L435.78 500.27 L436.46 500.38 L437.14 500.48 L437.82 500.57 L438.5 500.64 L439.18 500.7 L439.86 500.74 L440.54 500.77 L441.22 500.79 L441.9 500.8 L442.58 500.79 L443.26 500.77 L443.94 500.74 L444.62 500.7 L445.3 500.64 L445.98 500.57 L446.66 500.48 L447.34 500.38 L448.02 500.27 L448.7 500.15 L449.38 500.01 L450.06 499.87 L450.75 499.7 L451.43 499.53 L452.11 499.34 L452.79 499.14 L453.47 498.92 L454.15 498.7 L454.83 498.46 L455.51 498.2 L456.19 497.94 L456.87 497.66 L457.55 497.36 L458.23 497.06 L458.91 496.74 L459.59 496.41 L460.27 496.06 L460.95 495.7 L461.63 495.33 L462.31 494.95 L462.99 494.55 L463.67 494.14 L464.35 493.71 L465.03 493.27 L465.71 492.82 L466.39 492.36 L467.07 491.88 L467.76 491.38 L468.44 490.88 L469.12 490.36 L469.8 489.82 L470.48 489.27 L471.16 488.7 L471.84 488.12 L472.52 487.52 L473.2 486.91 L473.88 486.28 L474.56 485.63 L475.24 484.97 L475.92 484.28 L476.6 483.58 L477.28 482.86 L477.96 482.12 L478.64 481.35 L479.32 480.56 L480 479.75 L480.68 478.91 L481.36 478.04 L482.04 477.14 L482.72 476.21 L483.4 475.25 L484.08 474.25 L484.76 473.21 L485.45 472.13 L486.13 471 L486.81 469.82 L487.49 468.59 L488.17 467.3 L488.85 465.95 L489.53 464.53 L490.21 463.03 L490.89 461.46 L491.57 459.8 L492.25 458.04 L492.93 456.18 L493.61 454.2 L494.29 452.11 L494.97 449.88 L495.65 447.5 L496.33 444.97 L497.01 442.27 L497.69 439.38 L498.37 436.29 L499.05 432.98 L499.73 429.43 L500.41 425.63 L501.09 421.55 L501.77 417.16 L502.46 412.45" fill="none" stroke="#707070" stroke-width="0.8" stroke-linejoin="round" stroke-dasharray="0.8 1.4"/>
<path d="M428.2 488.3 L427.87 488.03 L427.54 487.75 L427.2 487.46 L426.87 487.17 L426.54 486.86 L426.21 486.55 L425.88 486.23 L425.55 485.91 L425.21 485.58 L424.88 485.23 L424.55 484.89 L424.22 484.53 L423.89 484.16 L423.55 483.79 L423.22 483.41 L422.89 483.02 L422.56 482.62 L422.23 482.21 L421.89 481.79 L421.56 481.37 L421.23 480.93 L420.9 480.49 L420.57 480.04 L420.24 479.57 L419.9 479.1 L419.57 478.62 L419.24 478.12 L418.91 477.62 L418.58 477.1 L418.24 476.57 L417.91 476.04 L417.58 475.49 L417.25 474.93 L416.92 474.35 L416.59 473.77 L416.25 473.17 L415.92 472.56 L415.59 471.93 L415.26 471.29 L414.93 470.64 L414.59 469.97 L414.26 469.29 L413.93 468.6 L413.6 467.88 L413.27 467.16 L412.93 466.41 L412.6 465.65 L412.27 464.88 L411.94 464.08 L411.61 463.27 L411.28 462.44 L410.94 461.59 L410.61 460.72 L410.28 459.83 L409.95 458.93 L409.62 458 L409.28 457.05 L408.95 456.08 L408.62 455.09 L408.29 454.08 L407.96 453.04 L407.63 451.98 L407.29 450.9 L406.96 449.79 L406.63 448.65 L406.3 447.5 L405.97 446.31 L405.63 445.1 L405.3 443.86 L404.97 442.6 L404.64 441.3 L404.31 439.98 L403.97 438.63 L403.64 437.24 L403.31 435.83 L402.98 434.38 L402.65 432.91 L402.32 431.4 L401.98 429.85 L401.65 428.27 L401.32 426.66 L400.99 425.02 L400.66 423.33 L400.32 421.61 L399.99 419.85 L399.66 418.06 L399.33 416.22 L399 414.35 L398.67 412.43" fill="none" stroke="#ec8484" stroke-width="0.7" stroke-linejoin="round"/>
<path d="M455.6 488.3 L455.93 488.03 L456.26 487.75 L456.6 487.46 L456.93 487.17 L457.26 486.86 L457.59 486.55 L457.92 486.23 L458.25 485.91 L458.59 485.58 L458.92 485.23 L459.25 484.89 L459.58 484.53 L459.91 484.16 L460.25 483.79 L460.58 483.41 L460.91 483.02 L461.24 482.62 L461.57 482.21 L461.91 481.79 L462.24 481.37 L462.57 480.93 L462.9 480.49 L463.23 480.04 L463.56 479.57 L463.9 479.1 L464.23 478.62 L464.56 478.12 L464.89 477.62 L465.22 477.1 L465.56 476.57 L465.89 476.04 L466.22 475.49 L466.55 474.93 L466.88 474.35 L467.21 473.77 L467.55 473.17 L467.88 472.56 L468.21 471.93 L468.54 471.29 L468.87 470.64 L469.21 469.97 L469.54 469.29 L469.87 468.6 L470.2 467.88 L470.53 467.16 L470.87 466.41 L471.2 465.65 L471.53 464.88 L471.86 464.08 L472.19 463.27 L472.52 462.44 L472.86 461.59 L473.19 460.72 L473.52 459.83 L473.85 458.93 L474.18 458 L474.52 457.05 L474.85 456.08 L475.18 455.09 L475.51 454.08 L475.84 453.04 L476.17 451.98 L476.51 450.9 L476.84 449.79 L477.17 448.65 L477.5 447.5 L477.83 446.31 L478.17 445.1 L478.5 443.86 L478.83 442.6 L479.16 441.3 L479.49 439.98 L479.83 438.63 L480.16 437.24 L480.49 435.83 L480.82 434.38 L481.15 432.91 L481.48 431.4 L481.82 429.85 L482.15 428.27 L482.48 426.66 L482.81 425.02 L483.14 423.33 L483.48 421.61 L483.81 419.85 L484.14 418.06 L484.47 416.22 L484.8 414.35 L485.13 412.43" fill="none" stroke="#ec8484" stroke-width="0.7" stroke-linejoin="round"/>
<path d="M388.32 412.63 L388.93 416.8 L389.53 420.72 L390.13 424.41 L390.73 427.87 L391.33 431.12 L391.94 434.17 L392.54 437.04 L393.14 439.75 L393.74 442.29 L394.34 444.69 L394.95 446.95 L395.55 449.09 L396.15 451.1 L396.75 453 L397.35 454.79 L397.95 456.49 L398.56 458.1 L399.16 459.62 L399.76 461.06 L400.36 462.43 L400.96 463.73 L401.57 464.97 L402.17 466.14 L402.77 467.26 L403.37 468.32 L403.97 469.33 L404.58 470.3 L405.18 471.22 L405.78 472.1 L406.38 472.95 L406.98 473.75 L407.59 474.53 L408.19 475.27 L408.79 475.98 L409.39 476.66 L409.99 477.32 L410.6 477.94 L411.2 478.55 L411.8 479.13 L412.4 479.69 L413 480.23 L413.61 480.75 L414.21 481.26 L414.81 481.74 L415.41 482.21 L416.01 482.66 L416.62 483.09 L417.22 483.51 L417.82 483.92 L418.42 484.31 L419.02 484.69 L419.63 485.06 L420.23 485.41 L420.83 485.75 L421.43 486.08 L422.03 486.4 L422.64 486.71 L423.24 487 L423.84 487.29 L424.44 487.56 L425.04 487.83 L425.65 488.08 L426.25 488.33 L426.85 488.56 L427.45 488.78 L428.05 489 L428.66 489.21 L429.26 489.4 L429.86 489.59 L430.46 489.77 L431.06 489.93 L431.67 490.09 L432.27 490.24 L432.87 490.38 L433.47 490.51 L434.07 490.64 L434.68 490.75 L435.28 490.85 L435.88 490.95 L436.48 491.03 L437.08 491.11 L437.69 491.18 L438.29 491.24 L438.89 491.29 L439.49 491.33 L440.09 491.36 L440.7 491.38 L441.3 491.4 L441.9 491.4 L442.5 491.4 L443.1 491.38 L443.71 491.36 L444.31 491.33 L444.91 491.29 L445.51 491.24 L446.11 491.18 L446.72 491.11 L447.32 491.03 L447.92 490.95 L448.52 490.85 L449.12 490.75 L449.73 490.64 L450.33 490.51 L450.93 490.38 L451.53 490.24 L452.13 490.09 L452.74 489.93 L453.34 489.77 L453.94 489.59 L454.54 489.4 L455.14 489.21 L455.75 489 L456.35 488.78 L456.95 488.56 L457.55 488.33 L458.15 488.08 L458.76 487.83 L459.36 487.56 L459.96 487.29 L460.56 487 L461.16 486.71 L461.77 486.4 L462.37 486.08 L462.97 485.75 L463.57 485.41 L464.17 485.06 L464.78 484.69 L465.38 484.31 L465.98 483.92 L466.58 483.51 L467.18 483.09 L467.79 482.66 L468.39 482.21 L468.99 481.74 L469.59 481.26 L470.19 480.75 L470.8 480.23 L471.4 479.69 L472 479.13 L472.6 478.55 L473.2 477.94 L473.81 477.32 L474.41 476.66 L475.01 475.98 L475.61 475.27 L476.21 474.53 L476.82 473.75 L477.42 472.95 L478.02 472.1 L478.62 471.22 L479.22 470.3 L479.83 469.33 L480.43 468.32 L481.03 467.26 L481.63 466.14 L482.23 464.97 L482.84 463.73 L483.44 462.43 L484.04 461.06 L484.64 459.62 L485.24 458.1 L485.85 456.49 L486.45 454.79 L487.05 453 L487.65 451.1 L488.25 449.09 L488.85 446.95 L489.46 444.69 L490.06 442.29 L490.66 439.75 L491.26 437.04 L491.86 434.17 L492.47 431.12 L493.07 427.87 L493.67 424.41 L494.27 420.72 L494.87 416.8 L495.48 412.63" fill="none" stroke="#3c4048" stroke-width="0.95" stroke-linejoin="round"/>
</g>
<circle cx="441.9" cy="500.8" r="1.0" fill="#333"/>
<circle cx="441.9" cy="491.4" r="1.3" fill="#000"/>
<path d="M369.6 522.65v-1.5M369.6 418.65v1.5M387.68 522.65v-1.5M387.68 418.65v1.5M405.75 522.65v-1.5M405.75 418.65v1.5M423.83 522.65v-1.5M423.83 418.65v1.5M441.9 522.65v-1.5M441.9 418.65v1.5M459.98 522.65v-1.5M459.98 418.65v1.5M478.05 522.65v-1.5M478.05 418.65v1.5M496.12 522.65v-1.5M496.12 418.65v1.5M514.2 522.65v-1.5M514.2 418.65v1.5M369.6 418.65h1.5M514.2 418.65h-1.5M369.6 439.45h1.5M514.2 439.45h-1.5M369.6 460.25h1.5M514.2 460.25h-1.5M369.6 481.05h1.5M514.2 481.05h-1.5M369.6 501.85h1.5M514.2 501.85h-1.5M369.6 522.65h1.5M514.2 522.65h-1.5" stroke="#777" stroke-width="0.6" fill="none"/>
<rect x="369.6" y="418.65" width="144.6" height="104.0" fill="none" stroke="#b0b0b0" stroke-width="1.25"/>
<g font-size="8.1" fill="#333" stroke="#333" stroke-width="0.12">
<text x="369.6" y="532.55" text-anchor="middle">0.1</text>
<text x="387.68" y="532.55" text-anchor="middle">0.2</text>
<text x="405.75" y="532.55" text-anchor="middle">0.3</text>
<text x="423.83" y="532.55" text-anchor="middle">0.4</text>
<text x="441.9" y="532.55" text-anchor="middle">0.5</text>
<text x="459.98" y="532.55" text-anchor="middle">0.6</text>
<text x="478.05" y="532.55" text-anchor="middle">0.7</text>
<text x="496.12" y="532.55" text-anchor="middle">0.8</text>
<text x="514.2" y="532.55" text-anchor="middle">0.9</text>
<text x="367.6" y="421.55" text-anchor="end">30</text>
<text x="367.6" y="442.35" text-anchor="end">25</text>
<text x="367.6" y="463.15" text-anchor="end">20</text>
<text x="367.6" y="483.95" text-anchor="end">15</text>
<text x="367.6" y="504.75" text-anchor="end">10</text>
<text x="367.6" y="526.05" text-anchor="end">5</text>
</g>
<text transform="translate(356.4,470.33) rotate(-90) scale(1.010,1)" font-size="8.87" fill="#333" >N</text>
<text transform="translate(355.99,478.19) rotate(-90) scale(0.989,1)" font-size="9.25" fill="#333" >χ</text>
<text x="438.6" y="542.55" font-size="8.5" fill="#333">f<tspan font-size="6.8" dy="4.3">A</tspan></text>
<text transform="translate(436.39,455.9) scale(0.909,1)" font-size="20.2" fill="#000" >L</text>
<text transform="translate(398.85,460.06) scale(0.906,1)" font-size="14.12" fill="#000" >C</text>
<text transform="translate(473.63,459.96) scale(0.910,1)" font-size="14.41" fill="#000" >C</text>
<text transform="translate(470.94,519.27) scale(1.066,1)" font-size="13.28" fill="#000" >N=100</text>
</g>
<g>
<clipPath id="c10"><rect x="20.5" y="554.3" width="144.3" height="104.0"/></clipPath>
<g clip-path="url(#c10)">
<path d="M45.42 548.12 L45.95 551.45 L46.48 554.61 L47.01 557.63 L47.54 560.5 L48.07 563.24 L48.61 565.86 L49.14 568.37 L49.67 570.77 L50.2 573.07 L50.73 575.27 L51.26 577.39 L51.79 579.44 L52.32 581.4 L52.85 583.3 L53.38 585.12 L53.91 586.89 L54.44 588.6 L54.97 590.25 L55.5 591.85 L56.03 593.4 L56.57 594.91 L57.1 596.37 L57.63 597.78 L58.16 599.16 L58.69 600.5 L59.22 601.81 L59.75 603.07 L60.28 604.31 L60.81 605.51 L61.34 606.68 L61.87 607.82 L62.4 608.93 L62.93 610.01 L63.46 611.07 L63.99 612.09 L64.53 613.09 L65.06 614.07 L65.59 615.02 L66.12 615.95 L66.65 616.85 L67.18 617.73 L67.71 618.59 L68.24 619.42 L68.77 620.23 L69.3 621.02 L69.83 621.79 L70.36 622.54 L70.89 623.26 L71.42 623.97 L71.95 624.65 L72.48 625.32 L73.02 625.96 L73.55 626.59 L74.08 627.2 L74.61 627.78 L75.14 628.35 L75.67 628.9 L76.2 629.43 L76.73 629.94 L77.26 630.43 L77.79 630.91 L78.32 631.37 L78.85 631.81 L79.38 632.23 L79.91 632.63 L80.44 633.02 L80.98 633.39 L81.51 633.74 L82.04 634.07 L82.57 634.39 L83.1 634.69 L83.63 634.98 L84.16 635.24 L84.69 635.49 L85.22 635.73 L85.75 635.95 L86.28 636.15 L86.81 636.33 L87.34 636.5 L87.87 636.65 L88.4 636.79 L88.94 636.91 L89.47 637.01 L90 637.1 L90.53 637.17 L91.06 637.23 L91.59 637.27 L92.12 637.29 L92.65 637.3 L93.18 637.29 L93.71 637.27 L94.24 637.23 L94.77 637.17 L95.3 637.1 L95.83 637.01 L96.36 636.91 L96.9 636.79 L97.43 636.65 L97.96 636.5 L98.49 636.33 L99.02 636.15 L99.55 635.95 L100.08 635.73 L100.61 635.49 L101.14 635.24 L101.67 634.98 L102.2 634.69 L102.73 634.39 L103.26 634.07 L103.79 633.74 L104.32 633.39 L104.86 633.02 L105.39 632.63 L105.92 632.23 L106.45 631.81 L106.98 631.37 L107.51 630.91 L108.04 630.43 L108.57 629.94 L109.1 629.43 L109.63 628.9 L110.16 628.35 L110.69 627.78 L111.22 627.2 L111.75 626.59 L112.28 625.96 L112.82 625.32 L113.35 624.65 L113.88 623.97 L114.41 623.26 L114.94 622.54 L115.47 621.79 L116 621.02 L116.53 620.23 L117.06 619.42 L117.59 618.59 L118.12 617.73 L118.65 616.85 L119.18 615.95 L119.71 615.02 L120.24 614.07 L120.77 613.09 L121.31 612.09 L121.84 611.07 L122.37 610.01 L122.9 608.93 L123.43 607.82 L123.96 606.68 L124.49 605.51 L125.02 604.31 L125.55 603.07 L126.08 601.81 L126.61 600.5 L127.14 599.16 L127.67 597.78 L128.2 596.37 L128.73 594.91 L129.27 593.4 L129.8 591.85 L130.33 590.25 L130.86 588.6 L131.39 586.89 L131.92 585.12 L132.45 583.3 L132.98 581.4 L133.51 579.44 L134.04 577.39 L134.57 575.27 L135.1 573.07 L135.63 570.77 L136.16 568.37 L136.69 565.86 L137.23 563.24 L137.76 560.5 L138.29 557.63 L138.82 554.61 L139.35 551.45 L139.88 548.12" fill="none" stroke="#ec8484" stroke-width="0.7" stroke-linejoin="round"/>
<path d="M31.64 548.16 L32.33 552.71 L33.02 556.96 L33.7 560.94 L34.39 564.66 L35.07 568.15 L35.76 571.42 L36.44 574.49 L37.13 577.37 L37.81 580.09 L38.5 582.65 L39.18 585.06 L39.87 587.34 L40.56 589.5 L41.24 591.54 L41.93 593.48 L42.61 595.32 L43.3 597.07 L43.98 598.73 L44.67 600.32 L45.35 601.84 L46.04 603.29 L46.72 604.67 L47.41 606 L48.1 607.27 L48.78 608.49 L49.47 609.66 L50.15 610.79 L50.84 611.88 L51.52 612.92 L52.21 613.93 L52.89 614.91 L53.58 615.84 L54.26 616.75 L54.95 617.63 L55.64 618.47 L56.32 619.29 L57.01 620.08 L57.69 620.85 L58.38 621.59 L59.06 622.3 L59.75 622.99 L60.43 623.66 L61.12 624.31 L61.8 624.94 L62.49 625.55 L63.18 626.14 L63.86 626.7 L64.55 627.25 L65.23 627.79 L65.92 628.3 L66.6 628.79 L67.29 629.27 L67.97 629.73 L68.66 630.18 L69.34 630.61 L70.03 631.02 L70.72 631.42 L71.4 631.8 L72.09 632.17 L72.77 632.53 L73.46 632.86 L74.14 633.19 L74.83 633.5 L75.51 633.8 L76.2 634.08 L76.88 634.35 L77.57 634.61 L78.26 634.86 L78.94 635.09 L79.63 635.31 L80.31 635.52 L81 635.71 L81.68 635.9 L82.37 636.07 L83.05 636.23 L83.74 636.38 L84.42 636.52 L85.11 636.64 L85.8 636.76 L86.48 636.86 L87.17 636.95 L87.85 637.04 L88.54 637.11 L89.22 637.17 L89.91 637.21 L90.59 637.25 L91.28 637.28 L91.96 637.29 L92.65 637.3 L93.34 637.29 L94.02 637.28 L94.71 637.25 L95.39 637.21 L96.08 637.17 L96.76 637.11 L97.45 637.04 L98.13 636.95 L98.82 636.86 L99.5 636.76 L100.19 636.64 L100.88 636.52 L101.56 636.38 L102.25 636.23 L102.93 636.07 L103.62 635.9 L104.3 635.71 L104.99 635.52 L105.67 635.31 L106.36 635.09 L107.04 634.86 L107.73 634.61 L108.42 634.35 L109.1 634.08 L109.79 633.8 L110.47 633.5 L111.16 633.19 L111.84 632.86 L112.53 632.53 L113.21 632.17 L113.9 631.8 L114.58 631.42 L115.27 631.02 L115.96 630.61 L116.64 630.18 L117.33 629.73 L118.01 629.27 L118.7 628.79 L119.38 628.3 L120.07 627.79 L120.75 627.25 L121.44 626.7 L122.12 626.14 L122.81 625.55 L123.5 624.94 L124.18 624.31 L124.87 623.66 L125.55 622.99 L126.24 622.3 L126.92 621.59 L127.61 620.85 L128.29 620.08 L128.98 619.29 L129.66 618.47 L130.35 617.63 L131.04 616.75 L131.72 615.84 L132.41 614.91 L133.09 613.93 L133.78 612.92 L134.46 611.88 L135.15 610.79 L135.83 609.66 L136.52 608.49 L137.2 607.27 L137.89 606 L138.58 604.67 L139.26 603.29 L139.95 601.84 L140.63 600.32 L141.32 598.73 L142 597.07 L142.69 595.32 L143.37 593.48 L144.06 591.54 L144.74 589.5 L145.43 587.34 L146.12 585.06 L146.8 582.65 L147.49 580.09 L148.17 577.37 L148.86 574.49 L149.54 571.42 L150.23 568.15 L150.91 564.66 L151.6 560.94 L152.28 556.96 L152.97 552.71 L153.66 548.16" fill="none" stroke="#4a4c9a" stroke-width="0.9" stroke-linejoin="round"/>
</g>
<circle cx="92.65" cy="637.3" r="1.3" fill="#000"/>
<path d="M20.5 658.3v-1.5M20.5 554.3v1.5M38.54 658.3v-1.5M38.54 554.3v1.5M56.58 658.3v-1.5M56.58 554.3v1.5M74.61 658.3v-1.5M74.61 554.3v1.5M92.65 658.3v-1.5M92.65 554.3v1.5M110.69 658.3v-1.5M110.69 554.3v1.5M128.73 658.3v-1.5M128.73 554.3v1.5M146.76 658.3v-1.5M146.76 554.3v1.5M164.8 658.3v-1.5M164.8 554.3v1.5M20.5 554.3h1.5M164.8 554.3h-1.5M20.5 575.1h1.5M164.8 575.1h-1.5M20.5 595.9h1.5M164.8 595.9h-1.5M20.5 616.7h1.5M164.8 616.7h-1.5M20.5 637.5h1.5M164.8 637.5h-1.5M20.5 658.3h1.5M164.8 658.3h-1.5" stroke="#777" stroke-width="0.6" fill="none"/>
<rect x="20.5" y="554.3" width="144.3" height="104.0" fill="none" stroke="#b0b0b0" stroke-width="1.25"/>
<g font-size="8.1" fill="#333" stroke="#333" stroke-width="0.12">
<text x="20.5" y="668.2" text-anchor="middle">0.1</text>
<text x="38.54" y="668.2" text-anchor="middle">0.2</text>
<text x="56.58" y="668.2" text-anchor="middle">0.3</text>
<text x="74.61" y="668.2" text-anchor="middle">0.4</text>
<text x="92.65" y="668.2" text-anchor="middle">0.5</text>
<text x="110.69" y="668.2" text-anchor="middle">0.6</text>
<text x="128.73" y="668.2" text-anchor="middle">0.7</text>
<text x="146.76" y="668.2" text-anchor="middle">0.8</text>
<text x="164.8" y="668.2" text-anchor="middle">0.9</text>
<text x="18.5" y="557.2" text-anchor="end">30</text>
<text x="18.5" y="578" text-anchor="end">25</text>
<text x="18.5" y="598.8" text-anchor="end">20</text>
<text x="18.5" y="619.6" text-anchor="end">15</text>
<text x="18.5" y="640.4" text-anchor="end">10</text>
<text x="18.5" y="661.7" text-anchor="end">5</text>
</g>
<text transform="translate(7.3,605.98) rotate(-90) scale(1.010,1)" font-size="8.87" fill="#333" >N</text>
<text transform="translate(6.89,613.84) rotate(-90) scale(0.989,1)" font-size="9.25" fill="#333" >χ</text>
<text x="89.35" y="678.2" font-size="8.5" fill="#333">f<tspan font-size="6.8" dy="4.3">A</tspan></text>
<line x1="83.4" y1="613.4" x2="59.1" y2="622" stroke="#111" stroke-width="0.95" marker-end="url(#ah)"/>
<line x1="101.4" y1="613.7" x2="125.3" y2="622" stroke="#111" stroke-width="0.95" marker-end="url(#ah)"/>
<text transform="translate(86.32,582.9) scale(0.970,1)" font-size="17.3" fill="#000" >L</text>
<text transform="translate(44.54,602.13) scale(0.885,1)" font-size="16.95" fill="#000" >C</text>
<text transform="translate(127.31,602.13) scale(0.915,1)" font-size="17.09" fill="#000" >C</text>
<text transform="translate(85.96,618.6) scale(0.922,1)" font-size="17.73" fill="#000" >B</text>
<text transform="translate(127.65,654.77) scale(1.045,1)" font-size="13.42" fill="#000" >N=50</text>
</g>
<g>
<clipPath id="c11"><rect x="195.0" y="554.3" width="144.6" height="104.0"/></clipPath>
<g clip-path="url(#c11)">
<path d="M206.11 548 L206.8 552.56 L207.49 556.82 L208.18 560.81 L208.86 564.54 L209.55 568.04 L210.24 571.32 L210.93 574.4 L211.61 577.29 L212.3 580.02 L212.99 582.59 L213.68 585.01 L214.36 587.3 L215.05 589.46 L215.74 591.52 L216.43 593.46 L217.11 595.31 L217.8 597.06 L218.49 598.74 L219.18 600.33 L219.86 601.85 L220.55 603.31 L221.24 604.7 L221.93 606.03 L222.61 607.31 L223.3 608.53 L223.99 609.71 L224.68 610.84 L225.36 611.93 L226.05 612.98 L226.74 613.99 L227.43 614.96 L228.11 615.9 L228.8 616.81 L229.49 617.69 L230.18 618.54 L230.86 619.36 L231.55 620.15 L232.24 620.91 L232.93 621.65 L233.61 622.37 L234.3 623.06 L234.99 623.73 L235.68 624.38 L236.36 625.01 L237.05 625.61 L237.74 626.2 L238.43 626.77 L239.11 627.32 L239.8 627.84 L240.49 628.36 L241.18 628.85 L241.86 629.33 L242.55 629.79 L243.24 630.23 L243.93 630.66 L244.61 631.07 L245.3 631.47 L245.99 631.85 L246.68 632.21 L247.36 632.56 L248.05 632.9 L248.74 633.22 L249.43 633.53 L250.11 633.83 L250.8 634.11 L251.49 634.38 L252.18 634.64 L252.86 634.88 L253.55 635.11 L254.24 635.33 L254.93 635.54 L255.61 635.73 L256.3 635.91 L256.99 636.08 L257.68 636.24 L258.36 636.39 L259.05 636.53 L259.74 636.65 L260.43 636.76 L261.11 636.87 L261.8 636.96 L262.49 637.04 L263.18 637.11 L263.86 637.17 L264.55 637.21 L265.24 637.25 L265.93 637.28 L266.61 637.29 L267.3 637.3 L267.99 637.29 L268.67 637.28 L269.36 637.25 L270.05 637.21 L270.74 637.17 L271.42 637.11 L272.11 637.04 L272.8 636.96 L273.49 636.87 L274.17 636.76 L274.86 636.65 L275.55 636.53 L276.24 636.39 L276.92 636.24 L277.61 636.08 L278.3 635.91 L278.99 635.73 L279.67 635.54 L280.36 635.33 L281.05 635.11 L281.74 634.88 L282.42 634.64 L283.11 634.38 L283.8 634.11 L284.49 633.83 L285.17 633.53 L285.86 633.22 L286.55 632.9 L287.24 632.56 L287.92 632.21 L288.61 631.85 L289.3 631.47 L289.99 631.07 L290.67 630.66 L291.36 630.23 L292.05 629.79 L292.74 629.33 L293.42 628.85 L294.11 628.36 L294.8 627.84 L295.49 627.32 L296.17 626.77 L296.86 626.2 L297.55 625.61 L298.24 625.01 L298.92 624.38 L299.61 623.73 L300.3 623.06 L300.99 622.37 L301.67 621.65 L302.36 620.91 L303.05 620.15 L303.74 619.36 L304.42 618.54 L305.11 617.69 L305.8 616.81 L306.49 615.9 L307.17 614.96 L307.86 613.99 L308.55 612.98 L309.24 611.93 L309.92 610.84 L310.61 609.71 L311.3 608.53 L311.99 607.31 L312.67 606.03 L313.36 604.7 L314.05 603.31 L314.74 601.85 L315.42 600.33 L316.11 598.74 L316.8 597.06 L317.49 595.31 L318.17 593.46 L318.86 591.52 L319.55 589.46 L320.24 587.3 L320.92 585.01 L321.61 582.59 L322.3 580.02 L322.99 577.29 L323.67 574.4 L324.36 571.32 L325.05 568.04 L325.74 564.54 L326.42 560.81 L327.11 556.82 L327.8 552.56 L328.49 548" fill="none" stroke="#707070" stroke-width="0.8" stroke-linejoin="round" stroke-dasharray="0.8 1.4"/>
<path d="M258.6 633.2 L258.18 632.9 L257.77 632.59 L257.35 632.27 L256.94 631.95 L256.52 631.62 L256.11 631.29 L255.69 630.95 L255.28 630.6 L254.86 630.25 L254.45 629.9 L254.03 629.53 L253.62 629.16 L253.2 628.78 L252.79 628.4 L252.37 628.01 L251.95 627.61 L251.54 627.2 L251.12 626.79 L250.71 626.36 L250.29 625.93 L249.88 625.5 L249.46 625.05 L249.05 624.59 L248.63 624.13 L248.22 623.65 L247.8 623.16 L247.39 622.67 L246.97 622.16 L246.56 621.64 L246.14 621.11 L245.73 620.57 L245.31 620.02 L244.89 619.45 L244.48 618.87 L244.06 618.28 L243.65 617.67 L243.23 617.05 L242.82 616.42 L242.4 615.76 L241.99 615.1 L241.57 614.41 L241.16 613.71 L240.74 612.99 L240.33 612.25 L239.91 611.5 L239.5 610.72 L239.08 609.92 L238.66 609.11 L238.25 608.27 L237.83 607.41 L237.42 606.52 L237 605.62 L236.59 604.69 L236.17 603.73 L235.76 602.75 L235.34 601.74 L234.93 600.71 L234.51 599.65 L234.1 598.56 L233.68 597.44 L233.27 596.29 L232.85 595.11 L232.43 593.89 L232.02 592.65 L231.6 591.37 L231.19 590.06 L230.77 588.71 L230.36 587.33 L229.94 585.9 L229.53 584.44 L229.11 582.95 L228.7 581.41 L228.28 579.83 L227.87 578.21 L227.45 576.54 L227.04 574.84 L226.62 573.08 L226.21 571.29 L225.79 569.44 L225.37 567.55 L224.96 565.6 L224.54 563.61 L224.13 561.57 L223.71 559.47 L223.3 557.32 L222.88 555.12 L222.47 552.86 L222.05 550.54 L221.64 548.16" fill="none" stroke="#ec8484" stroke-width="0.7" stroke-linejoin="round"/>
<path d="M276 633.2 L276.42 632.9 L276.83 632.59 L277.25 632.27 L277.66 631.95 L278.08 631.62 L278.49 631.29 L278.91 630.95 L279.32 630.6 L279.74 630.25 L280.15 629.9 L280.57 629.53 L280.98 629.16 L281.4 628.78 L281.81 628.4 L282.23 628.01 L282.65 627.61 L283.06 627.2 L283.48 626.79 L283.89 626.36 L284.31 625.93 L284.72 625.5 L285.14 625.05 L285.55 624.59 L285.97 624.13 L286.38 623.65 L286.8 623.16 L287.21 622.67 L287.63 622.16 L288.04 621.64 L288.46 621.11 L288.87 620.57 L289.29 620.02 L289.71 619.45 L290.12 618.87 L290.54 618.28 L290.95 617.67 L291.37 617.05 L291.78 616.42 L292.2 615.76 L292.61 615.1 L293.03 614.41 L293.44 613.71 L293.86 612.99 L294.27 612.25 L294.69 611.5 L295.1 610.72 L295.52 609.92 L295.94 609.11 L296.35 608.27 L296.77 607.41 L297.18 606.52 L297.6 605.62 L298.01 604.69 L298.43 603.73 L298.84 602.75 L299.26 601.74 L299.67 600.71 L300.09 599.65 L300.5 598.56 L300.92 597.44 L301.33 596.29 L301.75 595.11 L302.17 593.89 L302.58 592.65 L303 591.37 L303.41 590.06 L303.83 588.71 L304.24 587.33 L304.66 585.9 L305.07 584.44 L305.49 582.95 L305.9 581.41 L306.32 579.83 L306.73 578.21 L307.15 576.54 L307.56 574.84 L307.98 573.08 L308.39 571.29 L308.81 569.44 L309.23 567.55 L309.64 565.6 L310.06 563.61 L310.47 561.57 L310.89 559.47 L311.3 557.32 L311.72 555.12 L312.13 552.86 L312.55 550.54 L312.96 548.16" fill="none" stroke="#ec8484" stroke-width="0.7" stroke-linejoin="round"/>
<path d="M208.32 548.11 L208.98 552.33 L209.65 556.31 L210.31 560.07 L210.97 563.61 L211.63 566.96 L212.3 570.12 L212.96 573.12 L213.62 575.95 L214.28 578.64 L214.95 581.19 L215.61 583.61 L216.27 585.9 L216.94 588.09 L217.6 590.17 L218.26 592.15 L218.92 594.04 L219.59 595.84 L220.25 597.55 L220.91 599.19 L221.57 600.76 L222.24 602.26 L222.9 603.69 L223.56 605.07 L224.23 606.38 L224.89 607.64 L225.55 608.85 L226.21 610 L226.88 611.12 L227.54 612.18 L228.2 613.2 L228.86 614.18 L229.53 615.13 L230.19 616.03 L230.85 616.9 L231.51 617.74 L232.18 618.54 L232.84 619.31 L233.5 620.05 L234.17 620.76 L234.83 621.44 L235.49 622.09 L236.15 622.72 L236.82 623.32 L237.48 623.9 L238.14 624.46 L238.8 624.99 L239.47 625.5 L240.13 625.99 L240.79 626.46 L241.46 626.91 L242.12 627.34 L242.78 627.75 L243.44 628.14 L244.11 628.52 L244.77 628.88 L245.43 629.22 L246.09 629.55 L246.76 629.86 L247.42 630.16 L248.08 630.44 L248.74 630.71 L249.41 630.97 L250.07 631.21 L250.73 631.44 L251.4 631.66 L252.06 631.87 L252.72 632.06 L253.38 632.25 L254.05 632.42 L254.71 632.58 L255.37 632.73 L256.03 632.88 L256.7 633.01 L257.36 633.14 L258.02 633.25 L258.69 633.36 L259.35 633.45 L260.01 633.54 L260.67 633.62 L261.34 633.7 L262 633.76 L262.66 633.82 L263.32 633.87 L263.99 633.91 L264.65 633.94 L265.31 633.97 L265.97 633.99 L266.64 634 L267.3 634 L267.96 634 L268.63 633.99 L269.29 633.97 L269.95 633.94 L270.61 633.91 L271.28 633.87 L271.94 633.82 L272.6 633.76 L273.26 633.7 L273.93 633.62 L274.59 633.54 L275.25 633.45 L275.91 633.36 L276.58 633.25 L277.24 633.14 L277.9 633.01 L278.57 632.88 L279.23 632.73 L279.89 632.58 L280.55 632.42 L281.22 632.25 L281.88 632.06 L282.54 631.87 L283.2 631.66 L283.87 631.44 L284.53 631.21 L285.19 630.97 L285.86 630.71 L286.52 630.44 L287.18 630.16 L287.84 629.86 L288.51 629.55 L289.17 629.22 L289.83 628.88 L290.49 628.52 L291.16 628.14 L291.82 627.75 L292.48 627.34 L293.14 626.91 L293.81 626.46 L294.47 625.99 L295.13 625.5 L295.8 624.99 L296.46 624.46 L297.12 623.9 L297.78 623.32 L298.45 622.72 L299.11 622.09 L299.77 621.44 L300.43 620.76 L301.1 620.05 L301.76 619.31 L302.42 618.54 L303.09 617.74 L303.75 616.9 L304.41 616.03 L305.07 615.13 L305.74 614.18 L306.4 613.2 L307.06 612.18 L307.72 611.12 L308.39 610 L309.05 608.85 L309.71 607.64 L310.37 606.38 L311.04 605.07 L311.7 603.69 L312.36 602.26 L313.03 600.76 L313.69 599.19 L314.35 597.55 L315.01 595.84 L315.68 594.04 L316.34 592.15 L317 590.17 L317.66 588.09 L318.33 585.9 L318.99 583.61 L319.65 581.19 L320.32 578.64 L320.98 575.95 L321.64 573.12 L322.3 570.12 L322.97 566.96 L323.63 563.61 L324.29 560.07 L324.95 556.31 L325.62 552.33 L326.28 548.11" fill="none" stroke="#6e6ea4" stroke-width="1.55" stroke-linejoin="round"/>
</g>
<circle cx="267.3" cy="637.3" r="1.0" fill="#333"/>
<circle cx="267.3" cy="634" r="1.3" fill="#000"/>
<path d="M195 658.3v-1.5M195 554.3v1.5M213.07 658.3v-1.5M213.07 554.3v1.5M231.15 658.3v-1.5M231.15 554.3v1.5M249.22 658.3v-1.5M249.22 554.3v1.5M267.3 658.3v-1.5M267.3 554.3v1.5M285.38 658.3v-1.5M285.38 554.3v1.5M303.45 658.3v-1.5M303.45 554.3v1.5M321.52 658.3v-1.5M321.52 554.3v1.5M339.6 658.3v-1.5M339.6 554.3v1.5M195 554.3h1.5M339.6 554.3h-1.5M195 575.1h1.5M339.6 575.1h-1.5M195 595.9h1.5M339.6 595.9h-1.5M195 616.7h1.5M339.6 616.7h-1.5M195 637.5h1.5M339.6 637.5h-1.5M195 658.3h1.5M339.6 658.3h-1.5" stroke="#777" stroke-width="0.6" fill="none"/>
<rect x="195.0" y="554.3" width="144.6" height="104.0" fill="none" stroke="#b0b0b0" stroke-width="1.25"/>
<g font-size="8.1" fill="#333" stroke="#333" stroke-width="0.12">
<text x="195" y="668.2" text-anchor="middle">0.1</text>
<text x="213.07" y="668.2" text-anchor="middle">0.2</text>
<text x="231.15" y="668.2" text-anchor="middle">0.3</text>
<text x="249.22" y="668.2" text-anchor="middle">0.4</text>
<text x="267.3" y="668.2" text-anchor="middle">0.5</text>
<text x="285.38" y="668.2" text-anchor="middle">0.6</text>
<text x="303.45" y="668.2" text-anchor="middle">0.7</text>
<text x="321.52" y="668.2" text-anchor="middle">0.8</text>
<text x="339.6" y="668.2" text-anchor="middle">0.9</text>
<text x="193" y="557.2" text-anchor="end">30</text>
<text x="193" y="578" text-anchor="end">25</text>
<text x="193" y="598.8" text-anchor="end">20</text>
<text x="193" y="619.6" text-anchor="end">15</text>
<text x="193" y="640.4" text-anchor="end">10</text>
<text x="193" y="661.7" text-anchor="end">5</text>
</g>
<text transform="translate(181.8,605.98) rotate(-90) scale(1.010,1)" font-size="8.87" fill="#333" >N</text>
<text transform="translate(181.39,613.84) rotate(-90) scale(0.989,1)" font-size="9.25" fill="#333" >χ</text>
<text x="264" y="678.2" font-size="8.5" fill="#333">f<tspan font-size="6.8" dy="4.3">A</tspan></text>
<line x1="256" y1="608.2" x2="232.1" y2="616.8" stroke="#111" stroke-width="0.95" marker-end="url(#ah)"/>
<line x1="279" y1="608.2" x2="303.3" y2="616.8" stroke="#111" stroke-width="0.95" marker-end="url(#ah)"/>
<text transform="translate(261.8,576.5) scale(1.009,1)" font-size="16.86" fill="#000" >L</text>
<text transform="translate(219.33,595.94) scale(0.925,1)" font-size="16.38" fill="#000" >C</text>
<text transform="translate(302.52,595.94) scale(0.927,1)" font-size="16.53" fill="#000" >C</text>
<text transform="translate(261.62,613) scale(0.909,1)" font-size="17.15" fill="#000" >B</text>
<text transform="translate(302.15,654.77) scale(1.045,1)" font-size="13.42" fill="#000" >N=50</text>
</g>
<g>
<clipPath id="c12"><rect x="369.6" y="554.3" width="144.6" height="104.0"/></clipPath>
<g clip-path="url(#c12)">
<path d="M380.71 548 L381.4 552.56 L382.09 556.82 L382.78 560.81 L383.46 564.54 L384.15 568.04 L384.84 571.32 L385.53 574.4 L386.21 577.29 L386.9 580.02 L387.59 582.59 L388.28 585.01 L388.96 587.3 L389.65 589.46 L390.34 591.52 L391.03 593.46 L391.71 595.31 L392.4 597.06 L393.09 598.74 L393.78 600.33 L394.46 601.85 L395.15 603.31 L395.84 604.7 L396.53 606.03 L397.21 607.31 L397.9 608.53 L398.59 609.71 L399.28 610.84 L399.96 611.93 L400.65 612.98 L401.34 613.99 L402.03 614.96 L402.71 615.9 L403.4 616.81 L404.09 617.69 L404.78 618.54 L405.46 619.36 L406.15 620.15 L406.84 620.91 L407.53 621.65 L408.21 622.37 L408.9 623.06 L409.59 623.73 L410.28 624.38 L410.96 625.01 L411.65 625.61 L412.34 626.2 L413.03 626.77 L413.71 627.32 L414.4 627.84 L415.09 628.36 L415.78 628.85 L416.46 629.33 L417.15 629.79 L417.84 630.23 L418.53 630.66 L419.21 631.07 L419.9 631.47 L420.59 631.85 L421.28 632.21 L421.96 632.56 L422.65 632.9 L423.34 633.22 L424.03 633.53 L424.71 633.83 L425.4 634.11 L426.09 634.38 L426.78 634.64 L427.46 634.88 L428.15 635.11 L428.84 635.33 L429.53 635.54 L430.21 635.73 L430.9 635.91 L431.59 636.08 L432.28 636.24 L432.96 636.39 L433.65 636.53 L434.34 636.65 L435.03 636.76 L435.71 636.87 L436.4 636.96 L437.09 637.04 L437.78 637.11 L438.46 637.17 L439.15 637.21 L439.84 637.25 L440.53 637.28 L441.21 637.29 L441.9 637.3 L442.59 637.29 L443.27 637.28 L443.96 637.25 L444.65 637.21 L445.34 637.17 L446.02 637.11 L446.71 637.04 L447.4 636.96 L448.09 636.87 L448.77 636.76 L449.46 636.65 L450.15 636.53 L450.84 636.39 L451.52 636.24 L452.21 636.08 L452.9 635.91 L453.59 635.73 L454.27 635.54 L454.96 635.33 L455.65 635.11 L456.34 634.88 L457.02 634.64 L457.71 634.38 L458.4 634.11 L459.09 633.83 L459.77 633.53 L460.46 633.22 L461.15 632.9 L461.84 632.56 L462.52 632.21 L463.21 631.85 L463.9 631.47 L464.59 631.07 L465.27 630.66 L465.96 630.23 L466.65 629.79 L467.34 629.33 L468.02 628.85 L468.71 628.36 L469.4 627.84 L470.09 627.32 L470.77 626.77 L471.46 626.2 L472.15 625.61 L472.84 625.01 L473.52 624.38 L474.21 623.73 L474.9 623.06 L475.59 622.37 L476.27 621.65 L476.96 620.91 L477.65 620.15 L478.34 619.36 L479.02 618.54 L479.71 617.69 L480.4 616.81 L481.09 615.9 L481.77 614.96 L482.46 613.99 L483.15 612.98 L483.84 611.93 L484.52 610.84 L485.21 609.71 L485.9 608.53 L486.59 607.31 L487.27 606.03 L487.96 604.7 L488.65 603.31 L489.34 601.85 L490.02 600.33 L490.71 598.74 L491.4 597.06 L492.09 595.31 L492.77 593.46 L493.46 591.52 L494.15 589.46 L494.84 587.3 L495.52 585.01 L496.21 582.59 L496.9 580.02 L497.59 577.29 L498.27 574.4 L498.96 571.32 L499.65 568.04 L500.34 564.54 L501.02 560.81 L501.71 556.82 L502.4 552.56 L503.09 548" fill="none" stroke="#707070" stroke-width="0.8" stroke-linejoin="round" stroke-dasharray="0.8 1.4"/>
<path d="M425.9 620.5 L425.6 620.15 L425.3 619.8 L425 619.45 L424.7 619.09 L424.4 618.72 L424.09 618.35 L423.79 617.98 L423.49 617.6 L423.19 617.21 L422.89 616.82 L422.59 616.42 L422.29 616.02 L421.99 615.61 L421.69 615.19 L421.39 614.77 L421.08 614.35 L420.78 613.91 L420.48 613.48 L420.18 613.03 L419.88 612.58 L419.58 612.12 L419.28 611.65 L418.98 611.18 L418.68 610.7 L418.38 610.21 L418.07 609.71 L417.77 609.2 L417.47 608.69 L417.17 608.17 L416.87 607.64 L416.57 607.1 L416.27 606.55 L415.97 605.99 L415.67 605.42 L415.37 604.85 L415.06 604.26 L414.76 603.66 L414.46 603.05 L414.16 602.43 L413.86 601.8 L413.56 601.15 L413.26 600.49 L412.96 599.82 L412.66 599.14 L412.36 598.45 L412.05 597.74 L411.75 597.02 L411.45 596.28 L411.15 595.53 L410.85 594.76 L410.55 593.98 L410.25 593.18 L409.95 592.37 L409.65 591.53 L409.35 590.69 L409.04 589.82 L408.74 588.94 L408.44 588.04 L408.14 587.12 L407.84 586.18 L407.54 585.22 L407.24 584.24 L406.94 583.24 L406.64 582.21 L406.34 581.17 L406.03 580.1 L405.73 579.02 L405.43 577.91 L405.13 576.77 L404.83 575.61 L404.53 574.43 L404.23 573.22 L403.93 571.98 L403.63 570.72 L403.33 569.43 L403.02 568.11 L402.72 566.77 L402.42 565.39 L402.12 563.99 L401.82 562.56 L401.52 561.09 L401.22 559.6 L400.92 558.07 L400.62 556.51 L400.32 554.92 L400.01 553.29 L399.71 551.63 L399.41 549.94 L399.11 548.21" fill="none" stroke="#ec8484" stroke-width="0.7" stroke-linejoin="round"/>
<path d="M457.9 620.5 L458.2 620.15 L458.5 619.8 L458.8 619.45 L459.1 619.09 L459.4 618.72 L459.71 618.35 L460.01 617.98 L460.31 617.6 L460.61 617.21 L460.91 616.82 L461.21 616.42 L461.51 616.02 L461.81 615.61 L462.11 615.19 L462.41 614.77 L462.72 614.35 L463.02 613.91 L463.32 613.48 L463.62 613.03 L463.92 612.58 L464.22 612.12 L464.52 611.65 L464.82 611.18 L465.12 610.7 L465.42 610.21 L465.73 609.71 L466.03 609.2 L466.33 608.69 L466.63 608.17 L466.93 607.64 L467.23 607.1 L467.53 606.55 L467.83 605.99 L468.13 605.42 L468.43 604.85 L468.74 604.26 L469.04 603.66 L469.34 603.05 L469.64 602.43 L469.94 601.8 L470.24 601.15 L470.54 600.49 L470.84 599.82 L471.14 599.14 L471.44 598.45 L471.75 597.74 L472.05 597.02 L472.35 596.28 L472.65 595.53 L472.95 594.76 L473.25 593.98 L473.55 593.18 L473.85 592.37 L474.15 591.53 L474.45 590.69 L474.76 589.82 L475.06 588.94 L475.36 588.04 L475.66 587.12 L475.96 586.18 L476.26 585.22 L476.56 584.24 L476.86 583.24 L477.16 582.21 L477.46 581.17 L477.77 580.1 L478.07 579.02 L478.37 577.91 L478.67 576.77 L478.97 575.61 L479.27 574.43 L479.57 573.22 L479.87 571.98 L480.17 570.72 L480.47 569.43 L480.78 568.11 L481.08 566.77 L481.38 565.39 L481.68 563.99 L481.98 562.56 L482.28 561.09 L482.58 559.6 L482.88 558.07 L483.18 556.51 L483.48 554.92 L483.79 553.29 L484.09 551.63 L484.39 549.94 L484.69 548.21" fill="none" stroke="#ec8484" stroke-width="0.7" stroke-linejoin="round"/>
<path d="M390.3 548.27 L390.88 552.13 L391.46 555.74 L392.04 559.12 L392.62 562.29 L393.2 565.26 L393.78 568.05 L394.36 570.67 L394.94 573.13 L395.52 575.45 L396.1 577.64 L396.68 579.7 L397.26 581.65 L397.84 583.5 L398.42 585.25 L399 586.9 L399.58 588.48 L400.16 589.97 L400.74 591.4 L401.32 592.75 L401.9 594.05 L402.48 595.28 L403.06 596.47 L403.64 597.6 L404.22 598.69 L404.8 599.73 L405.38 600.74 L405.96 601.7 L406.54 602.63 L407.12 603.52 L407.7 604.39 L408.28 605.22 L408.86 606.03 L409.44 606.81 L410.01 607.56 L410.59 608.29 L411.17 608.99 L411.75 609.68 L412.33 610.34 L412.91 610.98 L413.49 611.61 L414.07 612.21 L414.65 612.8 L415.23 613.37 L415.81 613.92 L416.39 614.46 L416.97 614.98 L417.55 615.48 L418.13 615.97 L418.71 616.45 L419.29 616.91 L419.87 617.35 L420.45 617.79 L421.03 618.21 L421.61 618.61 L422.19 619.01 L422.77 619.39 L423.35 619.75 L423.93 620.11 L424.51 620.45 L425.09 620.78 L425.67 621.1 L426.25 621.41 L426.83 621.7 L427.41 621.98 L427.99 622.25 L428.57 622.51 L429.15 622.76 L429.73 623 L430.31 623.22 L430.89 623.44 L431.46 623.64 L432.04 623.83 L432.62 624.01 L433.2 624.18 L433.78 624.34 L434.36 624.48 L434.94 624.62 L435.52 624.74 L436.1 624.86 L436.68 624.96 L437.26 625.05 L437.84 625.13 L438.42 625.21 L439 625.26 L439.58 625.31 L440.16 625.35 L440.74 625.38 L441.32 625.39 L441.9 625.4 L442.48 625.39 L443.06 625.38 L443.64 625.35 L444.22 625.31 L444.8 625.26 L445.38 625.21 L445.96 625.13 L446.54 625.05 L447.12 624.96 L447.7 624.86 L448.28 624.74 L448.86 624.62 L449.44 624.48 L450.02 624.34 L450.6 624.18 L451.18 624.01 L451.76 623.83 L452.34 623.64 L452.91 623.44 L453.49 623.22 L454.07 623 L454.65 622.76 L455.23 622.51 L455.81 622.25 L456.39 621.98 L456.97 621.7 L457.55 621.41 L458.13 621.1 L458.71 620.78 L459.29 620.45 L459.87 620.11 L460.45 619.75 L461.03 619.39 L461.61 619.01 L462.19 618.61 L462.77 618.21 L463.35 617.79 L463.93 617.35 L464.51 616.91 L465.09 616.45 L465.67 615.97 L466.25 615.48 L466.83 614.98 L467.41 614.46 L467.99 613.92 L468.57 613.37 L469.15 612.8 L469.73 612.21 L470.31 611.61 L470.89 610.98 L471.47 610.34 L472.05 609.68 L472.63 608.99 L473.21 608.29 L473.79 607.56 L474.36 606.81 L474.94 606.03 L475.52 605.22 L476.1 604.39 L476.68 603.52 L477.26 602.63 L477.84 601.7 L478.42 600.74 L479 599.73 L479.58 598.69 L480.16 597.6 L480.74 596.47 L481.32 595.28 L481.9 594.05 L482.48 592.75 L483.06 591.4 L483.64 589.97 L484.22 588.48 L484.8 586.9 L485.38 585.25 L485.96 583.5 L486.54 581.65 L487.12 579.7 L487.7 577.64 L488.28 575.45 L488.86 573.13 L489.44 570.67 L490.02 568.05 L490.6 565.26 L491.18 562.29 L491.76 559.12 L492.34 555.74 L492.92 552.13 L493.5 548.27" fill="none" stroke="#3c4048" stroke-width="0.95" stroke-linejoin="round"/>
</g>
<circle cx="441.9" cy="637.3" r="1.0" fill="#333"/>
<circle cx="441.9" cy="625.4" r="1.3" fill="#000"/>
<path d="M369.6 658.3v-1.5M369.6 554.3v1.5M387.68 658.3v-1.5M387.68 554.3v1.5M405.75 658.3v-1.5M405.75 554.3v1.5M423.83 658.3v-1.5M423.83 554.3v1.5M441.9 658.3v-1.5M441.9 554.3v1.5M459.98 658.3v-1.5M459.98 554.3v1.5M478.05 658.3v-1.5M478.05 554.3v1.5M496.12 658.3v-1.5M496.12 554.3v1.5M514.2 658.3v-1.5M514.2 554.3v1.5M369.6 554.3h1.5M514.2 554.3h-1.5M369.6 575.1h1.5M514.2 575.1h-1.5M369.6 595.9h1.5M514.2 595.9h-1.5M369.6 616.7h1.5M514.2 616.7h-1.5M369.6 637.5h1.5M514.2 637.5h-1.5M369.6 658.3h1.5M514.2 658.3h-1.5" stroke="#777" stroke-width="0.6" fill="none"/>
<rect x="369.6" y="554.3" width="144.6" height="104.0" fill="none" stroke="#b0b0b0" stroke-width="1.25"/>
<g font-size="8.1" fill="#333" stroke="#333" stroke-width="0.12">
<text x="369.6" y="668.2" text-anchor="middle">0.1</text>
<text x="387.68" y="668.2" text-anchor="middle">0.2</text>
<text x="405.75" y="668.2" text-anchor="middle">0.3</text>
<text x="423.83" y="668.2" text-anchor="middle">0.4</text>
<text x="441.9" y="668.2" text-anchor="middle">0.5</text>
<text x="459.98" y="668.2" text-anchor="middle">0.6</text>
<text x="478.05" y="668.2" text-anchor="middle">0.7</text>
<text x="496.12" y="668.2" text-anchor="middle">0.8</text>
<text x="514.2" y="668.2" text-anchor="middle">0.9</text>
<text x="367.6" y="557.2" text-anchor="end">30</text>
<text x="367.6" y="578" text-anchor="end">25</text>
<text x="367.6" y="598.8" text-anchor="end">20</text>
<text x="367.6" y="619.6" text-anchor="end">15</text>
<text x="367.6" y="640.4" text-anchor="end">10</text>
<text x="367.6" y="661.7" text-anchor="end">5</text>
</g>
<text transform="translate(356.4,605.98) rotate(-90) scale(1.010,1)" font-size="8.87" fill="#333" >N</text>
<text transform="translate(355.99,613.84) rotate(-90) scale(0.989,1)" font-size="9.25" fill="#333" >χ</text>
<text x="438.6" y="678.2" font-size="8.5" fill="#333">f<tspan font-size="6.8" dy="4.3">A</tspan></text>
<text transform="translate(435.92,591.7) scale(0.961,1)" font-size="20.06" fill="#000" >L</text>
<text transform="translate(402.29,599.88) scale(0.966,1)" font-size="12.43" fill="#000" >C</text>
<text transform="translate(472.67,599.58) scale(1.004,1)" font-size="12.43" fill="#000" >C</text>
<text transform="translate(479.06,654.77) scale(1.010,1)" font-size="13.7" fill="#000" >N=50</text>
</g>
<g>
<clipPath id="c20"><rect x="20.5" y="690.0" width="144.3" height="104.0"/></clipPath>
<g clip-path="url(#c20)">
<path d="M43.31 683.77 L43.86 686.98 L44.41 690.1 L44.97 693.13 L45.52 696.08 L46.08 698.95 L46.63 701.75 L47.19 704.46 L47.74 707.1 L48.3 709.66 L48.85 712.16 L49.4 714.58 L49.96 716.93 L50.51 719.21 L51.07 721.42 L51.62 723.57 L52.18 725.66 L52.73 727.68 L53.29 729.65 L53.84 731.55 L54.39 733.39 L54.95 735.18 L55.5 736.91 L56.06 738.59 L56.61 740.22 L57.17 741.79 L57.72 743.31 L58.28 744.78 L58.83 746.21 L59.38 747.59 L59.94 748.92 L60.49 750.21 L61.05 751.45 L61.6 752.65 L62.16 753.81 L62.71 754.93 L63.26 756.01 L63.82 757.06 L64.37 758.06 L64.93 759.03 L65.48 759.97 L66.04 760.87 L66.59 761.73 L67.15 762.57 L67.7 763.37 L68.25 764.15 L68.81 764.89 L69.36 765.6 L69.92 766.29 L70.47 766.95 L71.03 767.58 L71.58 768.19 L72.14 768.77 L72.69 769.33 L73.24 769.86 L73.8 770.37 L74.35 770.86 L74.91 771.33 L75.46 771.78 L76.02 772.2 L76.57 772.61 L77.13 773 L77.68 773.37 L78.23 773.72 L78.79 774.05 L79.34 774.37 L79.9 774.67 L80.45 774.95 L81.01 775.22 L81.56 775.47 L82.12 775.71 L82.67 775.94 L83.22 776.14 L83.78 776.34 L84.33 776.52 L84.89 776.69 L85.44 776.85 L86 776.99 L86.55 777.12 L87.11 777.24 L87.66 777.35 L88.21 777.45 L88.77 777.53 L89.32 777.6 L89.88 777.66 L90.43 777.71 L90.99 777.75 L91.54 777.78 L92.1 777.79 L92.65 777.8 L93.2 777.79 L93.76 777.78 L94.31 777.75 L94.87 777.71 L95.42 777.66 L95.98 777.6 L96.53 777.53 L97.09 777.45 L97.64 777.35 L98.19 777.24 L98.75 777.12 L99.3 776.99 L99.86 776.85 L100.41 776.69 L100.97 776.52 L101.52 776.34 L102.08 776.14 L102.63 775.94 L103.18 775.71 L103.74 775.47 L104.29 775.22 L104.85 774.95 L105.4 774.67 L105.96 774.37 L106.51 774.05 L107.07 773.72 L107.62 773.37 L108.17 773 L108.73 772.61 L109.28 772.2 L109.84 771.78 L110.39 771.33 L110.95 770.86 L111.5 770.37 L112.06 769.86 L112.61 769.33 L113.16 768.77 L113.72 768.19 L114.27 767.58 L114.83 766.95 L115.38 766.29 L115.94 765.6 L116.49 764.89 L117.05 764.15 L117.6 763.37 L118.15 762.57 L118.71 761.73 L119.26 760.87 L119.82 759.97 L120.37 759.03 L120.93 758.06 L121.48 757.06 L122.04 756.01 L122.59 754.93 L123.14 753.81 L123.7 752.65 L124.25 751.45 L124.81 750.21 L125.36 748.92 L125.92 747.59 L126.47 746.21 L127.02 744.78 L127.58 743.31 L128.13 741.79 L128.69 740.22 L129.24 738.59 L129.8 736.91 L130.35 735.18 L130.91 733.39 L131.46 731.55 L132.01 729.65 L132.57 727.68 L133.12 725.66 L133.68 723.57 L134.23 721.42 L134.79 719.21 L135.34 716.93 L135.9 714.58 L136.45 712.16 L137 709.66 L137.56 707.1 L138.11 704.46 L138.67 701.75 L139.22 698.95 L139.78 696.08 L140.33 693.13 L140.89 690.1 L141.44 686.98 L141.99 683.77" fill="none" stroke="#ec8484" stroke-width="0.7" stroke-linejoin="round"/>
<path d="M29.39 683.86 L30.1 688.66 L30.81 693.15 L31.53 697.37 L32.24 701.33 L32.95 705.05 L33.66 708.55 L34.37 711.85 L35.08 714.95 L35.79 717.88 L36.5 720.65 L37.21 723.26 L37.92 725.73 L38.63 728.08 L39.34 730.3 L40.05 732.41 L40.77 734.41 L41.48 736.32 L42.19 738.13 L42.9 739.87 L43.61 741.52 L44.32 743.09 L45.03 744.6 L45.74 746.04 L46.45 747.42 L47.16 748.74 L47.87 750.01 L48.58 751.23 L49.29 752.4 L50.01 753.52 L50.72 754.59 L51.43 755.63 L52.14 756.63 L52.85 757.59 L53.56 758.51 L54.27 759.4 L54.98 760.26 L55.69 761.08 L56.4 761.87 L57.11 762.64 L57.82 763.38 L58.53 764.09 L59.24 764.77 L59.96 765.43 L60.67 766.06 L61.38 766.68 L62.09 767.26 L62.8 767.83 L63.51 768.38 L64.22 768.9 L64.93 769.41 L65.64 769.89 L66.35 770.36 L67.06 770.81 L67.77 771.24 L68.48 771.65 L69.2 772.04 L69.91 772.42 L70.62 772.79 L71.33 773.13 L72.04 773.47 L72.75 773.78 L73.46 774.09 L74.17 774.38 L74.88 774.65 L75.59 774.91 L76.3 775.16 L77.01 775.4 L77.72 775.62 L78.44 775.83 L79.15 776.03 L79.86 776.22 L80.57 776.4 L81.28 776.56 L81.99 776.71 L82.7 776.86 L83.41 776.99 L84.12 777.11 L84.83 777.22 L85.54 777.32 L86.25 777.42 L86.96 777.5 L87.67 777.57 L88.39 777.63 L89.1 777.68 L89.81 777.72 L90.52 777.76 L91.23 777.78 L91.94 777.8 L92.65 777.8 L93.36 777.8 L94.07 777.78 L94.78 777.76 L95.49 777.72 L96.2 777.68 L96.91 777.63 L97.63 777.57 L98.34 777.5 L99.05 777.42 L99.76 777.32 L100.47 777.22 L101.18 777.11 L101.89 776.99 L102.6 776.86 L103.31 776.71 L104.02 776.56 L104.73 776.4 L105.44 776.22 L106.15 776.03 L106.86 775.83 L107.58 775.62 L108.29 775.4 L109 775.16 L109.71 774.91 L110.42 774.65 L111.13 774.38 L111.84 774.09 L112.55 773.78 L113.26 773.47 L113.97 773.13 L114.68 772.79 L115.39 772.42 L116.1 772.04 L116.82 771.65 L117.53 771.24 L118.24 770.81 L118.95 770.36 L119.66 769.89 L120.37 769.41 L121.08 768.9 L121.79 768.38 L122.5 767.83 L123.21 767.26 L123.92 766.68 L124.63 766.06 L125.34 765.43 L126.06 764.77 L126.77 764.09 L127.48 763.38 L128.19 762.64 L128.9 761.87 L129.61 761.08 L130.32 760.26 L131.03 759.4 L131.74 758.51 L132.45 757.59 L133.16 756.63 L133.87 755.63 L134.58 754.59 L135.29 753.52 L136.01 752.4 L136.72 751.23 L137.43 750.01 L138.14 748.74 L138.85 747.42 L139.56 746.04 L140.27 744.6 L140.98 743.09 L141.69 741.52 L142.4 739.87 L143.11 738.13 L143.82 736.32 L144.53 734.41 L145.25 732.41 L145.96 730.3 L146.67 728.08 L147.38 725.73 L148.09 723.26 L148.8 720.65 L149.51 717.88 L150.22 714.95 L150.93 711.85 L151.64 708.55 L152.35 705.05 L153.06 701.33 L153.77 697.37 L154.49 693.15 L155.2 688.66 L155.91 683.86" fill="none" stroke="#4a4c9a" stroke-width="0.9" stroke-linejoin="round"/>
</g>
<circle cx="92.65" cy="777.8" r="1.3" fill="#000"/>
<path d="M20.5 794v-1.5M20.5 690v1.5M38.54 794v-1.5M38.54 690v1.5M56.58 794v-1.5M56.58 690v1.5M74.61 794v-1.5M74.61 690v1.5M92.65 794v-1.5M92.65 690v1.5M110.69 794v-1.5M110.69 690v1.5M128.73 794v-1.5M128.73 690v1.5M146.76 794v-1.5M146.76 690v1.5M164.8 794v-1.5M164.8 690v1.5M20.5 690h1.5M164.8 690h-1.5M20.5 710.8h1.5M164.8 710.8h-1.5M20.5 731.6h1.5M164.8 731.6h-1.5M20.5 752.4h1.5M164.8 752.4h-1.5M20.5 773.2h1.5M164.8 773.2h-1.5M20.5 794h1.5M164.8 794h-1.5" stroke="#777" stroke-width="0.6" fill="none"/>
<rect x="20.5" y="690.0" width="144.3" height="104.0" fill="none" stroke="#b0b0b0" stroke-width="1.25"/>
<g font-size="8.1" fill="#333" stroke="#333" stroke-width="0.12">
<text x="20.5" y="803.9" text-anchor="middle">0.1</text>
<text x="38.54" y="803.9" text-anchor="middle">0.2</text>
<text x="56.58" y="803.9" text-anchor="middle">0.3</text>
<text x="74.61" y="803.9" text-anchor="middle">0.4</text>
<text x="92.65" y="803.9" text-anchor="middle">0.5</text>
<text x="110.69" y="803.9" text-anchor="middle">0.6</text>
<text x="128.73" y="803.9" text-anchor="middle">0.7</text>
<text x="146.76" y="803.9" text-anchor="middle">0.8</text>
<text x="164.8" y="803.9" text-anchor="middle">0.9</text>
<text x="18.5" y="692.9" text-anchor="end">30</text>
<text x="18.5" y="713.7" text-anchor="end">25</text>
<text x="18.5" y="734.5" text-anchor="end">20</text>
<text x="18.5" y="755.3" text-anchor="end">15</text>
<text x="18.5" y="776.1" text-anchor="end">10</text>
<text x="18.5" y="797.4" text-anchor="end">5</text>
</g>
<text transform="translate(7.3,741.68) rotate(-90) scale(1.010,1)" font-size="8.87" fill="#333" >N</text>
<text transform="translate(6.89,749.54) rotate(-90) scale(0.989,1)" font-size="9.25" fill="#333" >χ</text>
<text x="89.35" y="813.9" font-size="8.5" fill="#333">f<tspan font-size="6.8" dy="4.3">A</tspan></text>
<line x1="83.4" y1="756.2" x2="58.8" y2="764.8" stroke="#111" stroke-width="0.95" marker-end="url(#ah)"/>
<line x1="101.4" y1="756.6" x2="125.3" y2="764.4" stroke="#111" stroke-width="0.95" marker-end="url(#ah)"/>
<text transform="translate(86.32,725.5) scale(0.979,1)" font-size="17.15" fill="#000" >L</text>
<text transform="translate(41.55,738.63) scale(0.869,1)" font-size="17.09" fill="#000" >C</text>
<text transform="translate(130.2,738.23) scale(0.924,1)" font-size="17.09" fill="#000" >C</text>
<text transform="translate(85.96,761.3) scale(0.929,1)" font-size="17.59" fill="#000" >B</text>
<text transform="translate(127.65,790.67) scale(1.034,1)" font-size="13.56" fill="#000" >N=10</text>
</g>
<g>
<clipPath id="c21"><rect x="195.0" y="690.0" width="144.6" height="104.0"/></clipPath>
<g clip-path="url(#c21)">
<path d="M203.86 683.69 L204.58 688.5 L205.29 693.01 L206 697.24 L206.71 701.21 L207.43 704.94 L208.14 708.45 L208.85 711.76 L209.57 714.87 L210.28 717.81 L210.99 720.58 L211.7 723.21 L212.42 725.69 L213.13 728.04 L213.84 730.27 L214.55 732.39 L215.27 734.4 L215.98 736.32 L216.69 738.14 L217.41 739.87 L218.12 741.53 L218.83 743.11 L219.54 744.63 L220.26 746.07 L220.97 747.46 L221.68 748.78 L222.4 750.06 L223.11 751.27 L223.82 752.45 L224.53 753.57 L225.25 754.65 L225.96 755.69 L226.67 756.69 L227.38 757.65 L228.1 758.57 L228.81 759.46 L229.52 760.32 L230.24 761.15 L230.95 761.94 L231.66 762.71 L232.37 763.44 L233.09 764.15 L233.8 764.84 L234.51 765.49 L235.23 766.13 L235.94 766.74 L236.65 767.33 L237.36 767.89 L238.08 768.44 L238.79 768.96 L239.5 769.46 L240.21 769.95 L240.93 770.41 L241.64 770.86 L242.35 771.28 L243.07 771.7 L243.78 772.09 L244.49 772.47 L245.2 772.83 L245.92 773.17 L246.63 773.5 L247.34 773.82 L248.06 774.12 L248.77 774.41 L249.48 774.68 L250.19 774.94 L250.91 775.19 L251.62 775.42 L252.33 775.64 L253.04 775.85 L253.76 776.05 L254.47 776.24 L255.18 776.41 L255.9 776.57 L256.61 776.73 L257.32 776.87 L258.03 777 L258.75 777.12 L259.46 777.23 L260.17 777.33 L260.89 777.42 L261.6 777.5 L262.31 777.57 L263.02 777.63 L263.74 777.68 L264.45 777.73 L265.16 777.76 L265.87 777.78 L266.59 777.8 L267.3 777.8 L268.01 777.8 L268.73 777.78 L269.44 777.76 L270.15 777.73 L270.86 777.68 L271.58 777.63 L272.29 777.57 L273 777.5 L273.71 777.42 L274.43 777.33 L275.14 777.23 L275.85 777.12 L276.57 777 L277.28 776.87 L277.99 776.73 L278.7 776.57 L279.42 776.41 L280.13 776.24 L280.84 776.05 L281.56 775.85 L282.27 775.64 L282.98 775.42 L283.69 775.19 L284.41 774.94 L285.12 774.68 L285.83 774.41 L286.54 774.12 L287.26 773.82 L287.97 773.5 L288.68 773.17 L289.4 772.83 L290.11 772.47 L290.82 772.09 L291.53 771.7 L292.25 771.28 L292.96 770.86 L293.67 770.41 L294.39 769.95 L295.1 769.46 L295.81 768.96 L296.52 768.44 L297.24 767.89 L297.95 767.33 L298.66 766.74 L299.37 766.13 L300.09 765.49 L300.8 764.84 L301.51 764.15 L302.23 763.44 L302.94 762.71 L303.65 761.94 L304.36 761.15 L305.08 760.32 L305.79 759.46 L306.5 758.57 L307.22 757.65 L307.93 756.69 L308.64 755.69 L309.35 754.65 L310.07 753.57 L310.78 752.45 L311.49 751.27 L312.2 750.06 L312.92 748.78 L313.63 747.46 L314.34 746.07 L315.06 744.63 L315.77 743.11 L316.48 741.53 L317.19 739.87 L317.91 738.14 L318.62 736.32 L319.33 734.4 L320.05 732.39 L320.76 730.27 L321.47 728.04 L322.18 725.69 L322.9 723.21 L323.61 720.58 L324.32 717.81 L325.03 714.87 L325.75 711.76 L326.46 708.45 L327.17 704.94 L327.89 701.21 L328.6 697.24 L329.31 693.01 L330.02 688.5 L330.74 683.69" fill="none" stroke="#707070" stroke-width="0.8" stroke-linejoin="round" stroke-dasharray="0.8 1.4"/>
<path d="M254.8 770.6 L254.4 770.29 L254 769.97 L253.6 769.65 L253.2 769.32 L252.8 768.98 L252.4 768.63 L252 768.27 L251.6 767.9 L251.2 767.53 L250.8 767.14 L250.4 766.75 L250 766.35 L249.6 765.94 L249.21 765.52 L248.81 765.09 L248.41 764.65 L248.01 764.21 L247.61 763.75 L247.21 763.28 L246.81 762.81 L246.41 762.32 L246.01 761.82 L245.61 761.31 L245.21 760.8 L244.81 760.26 L244.41 759.72 L244.01 759.17 L243.61 758.6 L243.21 758.03 L242.81 757.44 L242.41 756.83 L242.01 756.22 L241.61 755.59 L241.21 754.94 L240.81 754.28 L240.41 753.61 L240.01 752.92 L239.61 752.22 L239.21 751.5 L238.81 750.77 L238.41 750.02 L238.02 749.25 L237.62 748.46 L237.22 747.66 L236.82 746.84 L236.42 745.99 L236.02 745.13 L235.62 744.26 L235.22 743.36 L234.82 742.43 L234.42 741.49 L234.02 740.53 L233.62 739.54 L233.22 738.53 L232.82 737.5 L232.42 736.44 L232.02 735.36 L231.62 734.26 L231.22 733.13 L230.82 731.97 L230.42 730.78 L230.02 729.57 L229.62 728.33 L229.22 727.06 L228.82 725.76 L228.42 724.43 L228.02 723.07 L227.62 721.67 L227.22 720.25 L226.83 718.79 L226.43 717.3 L226.03 715.77 L225.63 714.21 L225.23 712.61 L224.83 710.97 L224.43 709.3 L224.03 707.59 L223.63 705.84 L223.23 704.05 L222.83 702.22 L222.43 700.35 L222.03 698.43 L221.63 696.47 L221.23 694.47 L220.83 692.42 L220.43 690.33 L220.03 688.19 L219.63 686 L219.23 683.76" fill="none" stroke="#ec8484" stroke-width="0.7" stroke-linejoin="round"/>
<path d="M279.8 770.6 L280.2 770.29 L280.6 769.97 L281 769.65 L281.4 769.32 L281.8 768.98 L282.2 768.63 L282.6 768.27 L283 767.9 L283.4 767.53 L283.8 767.14 L284.2 766.75 L284.6 766.35 L285 765.94 L285.39 765.52 L285.79 765.09 L286.19 764.65 L286.59 764.21 L286.99 763.75 L287.39 763.28 L287.79 762.81 L288.19 762.32 L288.59 761.82 L288.99 761.31 L289.39 760.8 L289.79 760.26 L290.19 759.72 L290.59 759.17 L290.99 758.6 L291.39 758.03 L291.79 757.44 L292.19 756.83 L292.59 756.22 L292.99 755.59 L293.39 754.94 L293.79 754.28 L294.19 753.61 L294.59 752.92 L294.99 752.22 L295.39 751.5 L295.79 750.77 L296.19 750.02 L296.58 749.25 L296.98 748.46 L297.38 747.66 L297.78 746.84 L298.18 745.99 L298.58 745.13 L298.98 744.26 L299.38 743.36 L299.78 742.43 L300.18 741.49 L300.58 740.53 L300.98 739.54 L301.38 738.53 L301.78 737.5 L302.18 736.44 L302.58 735.36 L302.98 734.26 L303.38 733.13 L303.78 731.97 L304.18 730.78 L304.58 729.57 L304.98 728.33 L305.38 727.06 L305.78 725.76 L306.18 724.43 L306.58 723.07 L306.98 721.67 L307.38 720.25 L307.77 718.79 L308.17 717.3 L308.57 715.77 L308.97 714.21 L309.37 712.61 L309.77 710.97 L310.17 709.3 L310.57 707.59 L310.97 705.84 L311.37 704.05 L311.77 702.22 L312.17 700.35 L312.57 698.43 L312.97 696.47 L313.37 694.47 L313.77 692.42 L314.17 690.33 L314.57 688.19 L314.97 686 L315.37 683.76" fill="none" stroke="#ec8484" stroke-width="0.7" stroke-linejoin="round"/>
<path d="M209.27 683.88 L209.92 688.23 L210.57 692.34 L211.22 696.23 L211.87 699.92 L212.53 703.4 L213.18 706.71 L213.83 709.84 L214.48 712.8 L215.13 715.61 L215.79 718.27 L216.44 720.8 L217.09 723.19 L217.74 725.47 L218.39 727.62 L219.05 729.67 L219.7 731.61 L220.35 733.46 L221 735.22 L221.66 736.89 L222.31 738.48 L222.96 740 L223.61 741.44 L224.26 742.81 L224.92 744.12 L225.57 745.38 L226.22 746.57 L226.87 747.71 L227.52 748.8 L228.18 749.85 L228.83 750.84 L229.48 751.8 L230.13 752.72 L230.78 753.59 L231.44 754.44 L232.09 755.25 L232.74 756.02 L233.39 756.77 L234.04 757.48 L234.7 758.17 L235.35 758.83 L236 759.47 L236.65 760.09 L237.3 760.68 L237.96 761.25 L238.61 761.79 L239.26 762.32 L239.91 762.83 L240.57 763.32 L241.22 763.79 L241.87 764.25 L242.52 764.69 L243.17 765.11 L243.83 765.52 L244.48 765.91 L245.13 766.29 L245.78 766.65 L246.43 767 L247.09 767.34 L247.74 767.66 L248.39 767.97 L249.04 768.27 L249.69 768.56 L250.35 768.83 L251 769.09 L251.65 769.34 L252.3 769.58 L252.95 769.81 L253.61 770.03 L254.26 770.23 L254.91 770.43 L255.56 770.61 L256.21 770.79 L256.87 770.95 L257.52 771.1 L258.17 771.25 L258.82 771.38 L259.48 771.5 L260.13 771.61 L260.78 771.72 L261.43 771.81 L262.08 771.89 L262.74 771.96 L263.39 772.03 L264.04 772.08 L264.69 772.12 L265.34 772.16 L266 772.18 L266.65 772.2 L267.3 772.2 L267.95 772.2 L268.6 772.18 L269.26 772.16 L269.91 772.12 L270.56 772.08 L271.21 772.03 L271.86 771.96 L272.52 771.89 L273.17 771.81 L273.82 771.72 L274.47 771.61 L275.12 771.5 L275.78 771.38 L276.43 771.25 L277.08 771.1 L277.73 770.95 L278.39 770.79 L279.04 770.61 L279.69 770.43 L280.34 770.23 L280.99 770.03 L281.65 769.81 L282.3 769.58 L282.95 769.34 L283.6 769.09 L284.25 768.83 L284.91 768.56 L285.56 768.27 L286.21 767.97 L286.86 767.66 L287.51 767.34 L288.17 767 L288.82 766.65 L289.47 766.29 L290.12 765.91 L290.77 765.52 L291.43 765.11 L292.08 764.69 L292.73 764.25 L293.38 763.79 L294.03 763.32 L294.69 762.83 L295.34 762.32 L295.99 761.79 L296.64 761.25 L297.3 760.68 L297.95 760.09 L298.6 759.47 L299.25 758.83 L299.9 758.17 L300.56 757.48 L301.21 756.77 L301.86 756.02 L302.51 755.25 L303.16 754.44 L303.82 753.59 L304.47 752.72 L305.12 751.8 L305.77 750.84 L306.42 749.85 L307.08 748.8 L307.73 747.71 L308.38 746.57 L309.03 745.38 L309.68 744.12 L310.34 742.81 L310.99 741.44 L311.64 740 L312.29 738.48 L312.94 736.89 L313.6 735.22 L314.25 733.46 L314.9 731.61 L315.55 729.67 L316.21 727.62 L316.86 725.47 L317.51 723.19 L318.16 720.8 L318.81 718.27 L319.47 715.61 L320.12 712.8 L320.77 709.84 L321.42 706.71 L322.07 703.4 L322.73 699.92 L323.38 696.23 L324.03 692.34 L324.68 688.23 L325.33 683.88" fill="none" stroke="#3c4048" stroke-width="0.95" stroke-linejoin="round"/>
</g>
<circle cx="267.3" cy="777.8" r="1.0" fill="#333"/>
<circle cx="267.3" cy="772.2" r="1.3" fill="#000"/>
<path d="M195 794v-1.5M195 690v1.5M213.07 794v-1.5M213.07 690v1.5M231.15 794v-1.5M231.15 690v1.5M249.22 794v-1.5M249.22 690v1.5M267.3 794v-1.5M267.3 690v1.5M285.38 794v-1.5M285.38 690v1.5M303.45 794v-1.5M303.45 690v1.5M321.52 794v-1.5M321.52 690v1.5M339.6 794v-1.5M339.6 690v1.5M195 690h1.5M339.6 690h-1.5M195 710.8h1.5M339.6 710.8h-1.5M195 731.6h1.5M339.6 731.6h-1.5M195 752.4h1.5M339.6 752.4h-1.5M195 773.2h1.5M339.6 773.2h-1.5M195 794h1.5M339.6 794h-1.5" stroke="#777" stroke-width="0.6" fill="none"/>
<rect x="195.0" y="690.0" width="144.6" height="104.0" fill="none" stroke="#b0b0b0" stroke-width="1.25"/>
<g font-size="8.1" fill="#333" stroke="#333" stroke-width="0.12">
<text x="195" y="803.9" text-anchor="middle">0.1</text>
<text x="213.07" y="803.9" text-anchor="middle">0.2</text>
<text x="231.15" y="803.9" text-anchor="middle">0.3</text>
<text x="249.22" y="803.9" text-anchor="middle">0.4</text>
<text x="267.3" y="803.9" text-anchor="middle">0.5</text>
<text x="285.38" y="803.9" text-anchor="middle">0.6</text>
<text x="303.45" y="803.9" text-anchor="middle">0.7</text>
<text x="321.52" y="803.9" text-anchor="middle">0.8</text>
<text x="339.6" y="803.9" text-anchor="middle">0.9</text>
<text x="193" y="692.9" text-anchor="end">30</text>
<text x="193" y="713.7" text-anchor="end">25</text>
<text x="193" y="734.5" text-anchor="end">20</text>
<text x="193" y="755.3" text-anchor="end">15</text>
<text x="193" y="776.1" text-anchor="end">10</text>
<text x="193" y="797.4" text-anchor="end">5</text>
</g>
<text transform="translate(181.8,741.68) rotate(-90) scale(1.010,1)" font-size="8.87" fill="#333" >N</text>
<text transform="translate(181.39,749.54) rotate(-90) scale(0.989,1)" font-size="9.25" fill="#333" >χ</text>
<text x="264" y="813.9" font-size="8.5" fill="#333">f<tspan font-size="6.8" dy="4.3">A</tspan></text>
<text transform="translate(262.4,730.5) scale(0.942,1)" font-size="16.86" fill="#000" >L</text>
<text transform="translate(220.28,738.64) scale(0.883,1)" font-size="16.1" fill="#000" >C</text>
<text transform="translate(302.52,738.74) scale(0.911,1)" font-size="16.81" fill="#000" >C</text>
<text transform="translate(302.15,790.87) scale(1.045,1)" font-size="13.42" fill="#000" >N=10</text>
</g>
<g>
<clipPath id="c22"><rect x="369.6" y="690.0" width="144.6" height="104.0"/></clipPath>
<g clip-path="url(#c22)">
<path d="M378.46 683.69 L379.18 688.5 L379.89 693.01 L380.6 697.24 L381.31 701.21 L382.03 704.94 L382.74 708.45 L383.45 711.76 L384.17 714.87 L384.88 717.81 L385.59 720.58 L386.3 723.21 L387.02 725.69 L387.73 728.04 L388.44 730.27 L389.15 732.39 L389.87 734.4 L390.58 736.32 L391.29 738.14 L392.01 739.87 L392.72 741.53 L393.43 743.11 L394.14 744.63 L394.86 746.07 L395.57 747.46 L396.28 748.78 L397 750.06 L397.71 751.27 L398.42 752.45 L399.13 753.57 L399.85 754.65 L400.56 755.69 L401.27 756.69 L401.98 757.65 L402.7 758.57 L403.41 759.46 L404.12 760.32 L404.84 761.15 L405.55 761.94 L406.26 762.71 L406.97 763.44 L407.69 764.15 L408.4 764.84 L409.11 765.49 L409.83 766.13 L410.54 766.74 L411.25 767.33 L411.96 767.89 L412.68 768.44 L413.39 768.96 L414.1 769.46 L414.81 769.95 L415.53 770.41 L416.24 770.86 L416.95 771.28 L417.67 771.7 L418.38 772.09 L419.09 772.47 L419.8 772.83 L420.52 773.17 L421.23 773.5 L421.94 773.82 L422.66 774.12 L423.37 774.41 L424.08 774.68 L424.79 774.94 L425.51 775.19 L426.22 775.42 L426.93 775.64 L427.64 775.85 L428.36 776.05 L429.07 776.24 L429.78 776.41 L430.5 776.57 L431.21 776.73 L431.92 776.87 L432.63 777 L433.35 777.12 L434.06 777.23 L434.77 777.33 L435.49 777.42 L436.2 777.5 L436.91 777.57 L437.62 777.63 L438.34 777.68 L439.05 777.73 L439.76 777.76 L440.47 777.78 L441.19 777.8 L441.9 777.8 L442.61 777.8 L443.33 777.78 L444.04 777.76 L444.75 777.73 L445.46 777.68 L446.18 777.63 L446.89 777.57 L447.6 777.5 L448.31 777.42 L449.03 777.33 L449.74 777.23 L450.45 777.12 L451.17 777 L451.88 776.87 L452.59 776.73 L453.3 776.57 L454.02 776.41 L454.73 776.24 L455.44 776.05 L456.16 775.85 L456.87 775.64 L457.58 775.42 L458.29 775.19 L459.01 774.94 L459.72 774.68 L460.43 774.41 L461.14 774.12 L461.86 773.82 L462.57 773.5 L463.28 773.17 L464 772.83 L464.71 772.47 L465.42 772.09 L466.13 771.7 L466.85 771.28 L467.56 770.86 L468.27 770.41 L468.99 769.95 L469.7 769.46 L470.41 768.96 L471.12 768.44 L471.84 767.89 L472.55 767.33 L473.26 766.74 L473.97 766.13 L474.69 765.49 L475.4 764.84 L476.11 764.15 L476.83 763.44 L477.54 762.71 L478.25 761.94 L478.96 761.15 L479.68 760.32 L480.39 759.46 L481.1 758.57 L481.82 757.65 L482.53 756.69 L483.24 755.69 L483.95 754.65 L484.67 753.57 L485.38 752.45 L486.09 751.27 L486.8 750.06 L487.52 748.78 L488.23 747.46 L488.94 746.07 L489.66 744.63 L490.37 743.11 L491.08 741.53 L491.79 739.87 L492.51 738.14 L493.22 736.32 L493.93 734.4 L494.65 732.39 L495.36 730.27 L496.07 728.04 L496.78 725.69 L497.5 723.21 L498.21 720.58 L498.92 717.81 L499.63 714.87 L500.35 711.76 L501.06 708.45 L501.77 704.94 L502.49 701.21 L503.2 697.24 L503.91 693.01 L504.62 688.5 L505.34 683.69" fill="none" stroke="#707070" stroke-width="0.8" stroke-linejoin="round" stroke-dasharray="0.8 1.4"/>
<path d="M398.05 683.81 L398.54 686.25 L399.03 688.62 L399.53 690.91 L400.02 693.13 L400.51 695.28 L401 697.36 L401.5 699.38 L401.99 701.33 L402.48 703.22 L402.98 705.05 L403.47 706.82 L403.96 708.54 L404.45 710.2 L404.95 711.82 L405.44 713.38 L405.93 714.89 L406.42 716.35 L406.92 717.77 L407.41 719.14 L407.9 720.48 L408.4 721.77 L408.89 723.02 L409.38 724.23 L409.87 725.4 L410.37 726.54 L410.86 727.64 L411.35 728.7 L411.84 729.74 L412.34 730.74 L412.83 731.71 L413.32 732.65 L413.82 733.57 L414.31 734.45 L414.8 735.31 L415.29 736.14 L415.79 736.94 L416.28 737.72 L416.77 738.47 L417.26 739.2 L417.76 739.91 L418.25 740.6 L418.74 741.26 L419.23 741.91 L419.73 742.53 L420.22 743.13 L420.71 743.71 L421.21 744.28 L421.7 744.82 L422.19 745.35 L422.68 745.86 L423.18 746.35 L423.67 746.83 L424.16 747.29 L424.65 747.73 L425.15 748.16 L425.64 748.57 L426.13 748.97 L426.63 749.35 L427.12 749.72 L427.61 750.08 L428.1 750.42 L428.6 750.74 L429.09 751.05 L429.58 751.35 L430.07 751.64 L430.57 751.91 L431.06 752.17 L431.55 752.42 L432.05 752.65 L432.54 752.88 L433.03 753.09 L433.52 753.29 L434.02 753.47 L434.51 753.65 L435 753.81 L435.49 753.96 L435.99 754.1 L436.48 754.23 L436.97 754.35 L437.47 754.45 L437.96 754.55 L438.45 754.63 L438.94 754.7 L439.44 754.76 L439.93 754.81 L440.42 754.85 L440.91 754.88 L441.41 754.89 L441.9 754.9 L442.39 754.89 L442.89 754.88 L443.38 754.85 L443.87 754.81 L444.36 754.76 L444.86 754.7 L445.35 754.63 L445.84 754.55 L446.33 754.45 L446.83 754.35 L447.32 754.23 L447.81 754.1 L448.31 753.96 L448.8 753.81 L449.29 753.65 L449.78 753.47 L450.28 753.29 L450.77 753.09 L451.26 752.88 L451.75 752.65 L452.25 752.42 L452.74 752.17 L453.23 751.91 L453.73 751.64 L454.22 751.35 L454.71 751.05 L455.2 750.74 L455.7 750.42 L456.19 750.08 L456.68 749.72 L457.17 749.35 L457.67 748.97 L458.16 748.57 L458.65 748.16 L459.15 747.73 L459.64 747.29 L460.13 746.83 L460.62 746.35 L461.12 745.86 L461.61 745.35 L462.1 744.82 L462.59 744.28 L463.09 743.71 L463.58 743.13 L464.07 742.53 L464.57 741.91 L465.06 741.26 L465.55 740.6 L466.04 739.91 L466.54 739.2 L467.03 738.47 L467.52 737.72 L468.01 736.94 L468.51 736.14 L469 735.31 L469.49 734.45 L469.98 733.57 L470.48 732.65 L470.97 731.71 L471.46 730.74 L471.96 729.74 L472.45 728.7 L472.94 727.64 L473.43 726.54 L473.93 725.4 L474.42 724.23 L474.91 723.02 L475.4 721.77 L475.9 720.48 L476.39 719.14 L476.88 717.77 L477.38 716.35 L477.87 714.89 L478.36 713.38 L478.85 711.82 L479.35 710.2 L479.84 708.54 L480.33 706.82 L480.82 705.05 L481.32 703.22 L481.81 701.33 L482.3 699.38 L482.8 697.36 L483.29 695.28 L483.78 693.13 L484.27 690.91 L484.77 688.62 L485.26 686.25 L485.75 683.81" fill="none" stroke="#522626" stroke-width="0.9" stroke-linejoin="round"/>
<path d="M415.2 734.9 L415.03 734.58 L414.86 734.26 L414.69 733.93 L414.52 733.6 L414.35 733.27 L414.17 732.93 L414 732.58 L413.83 732.23 L413.66 731.88 L413.49 731.52 L413.32 731.16 L413.15 730.79 L412.98 730.42 L412.81 730.04 L412.64 729.66 L412.46 729.27 L412.29 728.88 L412.12 728.48 L411.95 728.08 L411.78 727.67 L411.61 727.26 L411.44 726.84 L411.27 726.42 L411.1 725.99 L410.93 725.56 L410.75 725.12 L410.58 724.67 L410.41 724.22 L410.24 723.76 L410.07 723.3 L409.9 722.83 L409.73 722.36 L409.56 721.88 L409.39 721.39 L409.22 720.9 L409.04 720.4 L408.87 719.89 L408.7 719.38 L408.53 718.87 L408.36 718.34 L408.19 717.81 L408.02 717.28 L407.85 716.73 L407.68 716.18 L407.51 715.63 L407.33 715.07 L407.16 714.5 L406.99 713.92 L406.82 713.34 L406.65 712.75 L406.48 712.15 L406.31 711.55 L406.14 710.94 L405.97 710.32 L405.8 709.69 L405.62 709.06 L405.45 708.42 L405.28 707.77 L405.11 707.12 L404.94 706.46 L404.77 705.79 L404.6 705.11 L404.43 704.43 L404.26 703.73 L404.09 703.03 L403.92 702.33 L403.74 701.61 L403.57 700.89 L403.4 700.16 L403.23 699.42 L403.06 698.67 L402.89 697.91 L402.72 697.15 L402.55 696.38 L402.38 695.6 L402.21 694.81 L402.03 694.01 L401.86 693.21 L401.69 692.39 L401.52 691.57 L401.35 690.74 L401.18 689.9 L401.01 689.05 L400.84 688.19 L400.67 687.32 L400.5 686.45 L400.32 685.57 L400.15 684.67 L399.98 683.77" fill="none" stroke="#d03c3c" stroke-width="0.8" stroke-linejoin="round"/>
<path d="M468.6 734.9 L468.77 734.58 L468.94 734.26 L469.11 733.93 L469.28 733.6 L469.45 733.27 L469.63 732.93 L469.8 732.58 L469.97 732.23 L470.14 731.88 L470.31 731.52 L470.48 731.16 L470.65 730.79 L470.82 730.42 L470.99 730.04 L471.16 729.66 L471.34 729.27 L471.51 728.88 L471.68 728.48 L471.85 728.08 L472.02 727.67 L472.19 727.26 L472.36 726.84 L472.53 726.42 L472.7 725.99 L472.87 725.56 L473.05 725.12 L473.22 724.67 L473.39 724.22 L473.56 723.76 L473.73 723.3 L473.9 722.83 L474.07 722.36 L474.24 721.88 L474.41 721.39 L474.58 720.9 L474.76 720.4 L474.93 719.89 L475.1 719.38 L475.27 718.87 L475.44 718.34 L475.61 717.81 L475.78 717.28 L475.95 716.73 L476.12 716.18 L476.29 715.63 L476.47 715.07 L476.64 714.5 L476.81 713.92 L476.98 713.34 L477.15 712.75 L477.32 712.15 L477.49 711.55 L477.66 710.94 L477.83 710.32 L478 709.69 L478.18 709.06 L478.35 708.42 L478.52 707.77 L478.69 707.12 L478.86 706.46 L479.03 705.79 L479.2 705.11 L479.37 704.43 L479.54 703.73 L479.71 703.03 L479.88 702.33 L480.06 701.61 L480.23 700.89 L480.4 700.16 L480.57 699.42 L480.74 698.67 L480.91 697.91 L481.08 697.15 L481.25 696.38 L481.42 695.6 L481.59 694.81 L481.77 694.01 L481.94 693.21 L482.11 692.39 L482.28 691.57 L482.45 690.74 L482.62 689.9 L482.79 689.05 L482.96 688.19 L483.13 687.32 L483.3 686.45 L483.48 685.57 L483.65 684.67 L483.82 683.77" fill="none" stroke="#d03c3c" stroke-width="0.8" stroke-linejoin="round"/>
</g>
<circle cx="441.9" cy="777.8" r="1.0" fill="#333"/>
<circle cx="441.9" cy="754.9" r="1.3" fill="#000"/>
<path d="M369.6 794v-1.5M369.6 690v1.5M387.68 794v-1.5M387.68 690v1.5M405.75 794v-1.5M405.75 690v1.5M423.83 794v-1.5M423.83 690v1.5M441.9 794v-1.5M441.9 690v1.5M459.98 794v-1.5M459.98 690v1.5M478.05 794v-1.5M478.05 690v1.5M496.12 794v-1.5M496.12 690v1.5M514.2 794v-1.5M514.2 690v1.5M369.6 690h1.5M514.2 690h-1.5M369.6 710.8h1.5M514.2 710.8h-1.5M369.6 731.6h1.5M514.2 731.6h-1.5M369.6 752.4h1.5M514.2 752.4h-1.5M369.6 773.2h1.5M514.2 773.2h-1.5M369.6 794h1.5M514.2 794h-1.5" stroke="#777" stroke-width="0.6" fill="none"/>
<rect x="369.6" y="690.0" width="144.6" height="104.0" fill="none" stroke="#b0b0b0" stroke-width="1.25"/>
<g font-size="8.1" fill="#333" stroke="#333" stroke-width="0.12">
<text x="369.6" y="803.9" text-anchor="middle">0.1</text>
<text x="387.68" y="803.9" text-anchor="middle">0.2</text>
<text x="405.75" y="803.9" text-anchor="middle">0.3</text>
<text x="423.83" y="803.9" text-anchor="middle">0.4</text>
<text x="441.9" y="803.9" text-anchor="middle">0.5</text>
<text x="459.98" y="803.9" text-anchor="middle">0.6</text>
<text x="478.05" y="803.9" text-anchor="middle">0.7</text>
<text x="496.12" y="803.9" text-anchor="middle">0.8</text>
<text x="514.2" y="803.9" text-anchor="middle">0.9</text>
<text x="367.6" y="692.9" text-anchor="end">30</text>
<text x="367.6" y="713.7" text-anchor="end">25</text>
<text x="367.6" y="734.5" text-anchor="end">20</text>
<text x="367.6" y="755.3" text-anchor="end">15</text>
<text x="367.6" y="776.1" text-anchor="end">10</text>
<text x="367.6" y="797.4" text-anchor="end">5</text>
</g>
<text transform="translate(356.4,741.68) rotate(-90) scale(1.010,1)" font-size="8.87" fill="#333" >N</text>
<text transform="translate(355.99,749.54) rotate(-90) scale(0.989,1)" font-size="9.25" fill="#333" >χ</text>
<text x="438.6" y="813.9" font-size="8.5" fill="#333">f<tspan font-size="6.8" dy="4.3">A</tspan></text>
<line x1="436.2" y1="724.7" x2="411.9" y2="727.1" stroke="#111" stroke-width="0.95" marker-end="url(#ah)"/>
<line x1="449.7" y1="724.4" x2="473.3" y2="727.2" stroke="#111" stroke-width="0.95" marker-end="url(#ah)"/>
<text transform="translate(435.92,711.5) scale(0.934,1)" font-size="20.64" fill="#000" >L</text>
<text transform="translate(437.31,728.48) scale(0.949,1)" font-size="12.15" fill="#000" >C</text>
<text transform="translate(477.3,790.66) scale(1.053,1)" font-size="13.84" fill="#000" >N=10</text>
</g>
<text transform="translate(63.53,412.97) scale(1.056,1)" font-size="13.48" fill="#000" >Mean-field</text>
<text transform="translate(253.04,412.94) scale(1.239,1)" font-size="16.2" fill="#000" stroke="#fff" stroke-width="0.25" font-family='"Liberation Serif", serif'>α</text>
<text transform="translate(265.36,414.85) scale(1.238,1)" font-size="13.96" fill="#000" >=</text>
<text transform="translate(277.89,413.1) scale(1.013,1)" font-size="13.52" fill="#000" >4</text>
<text transform="translate(427.23,412.94) scale(1.252,1)" font-size="16.2" fill="#000" stroke="#fff" stroke-width="0.25" font-family='"Liberation Serif", serif'>α</text>
<text transform="translate(439.44,414.85) scale(1.268,1)" font-size="13.96" fill="#000" >=</text>
<text transform="translate(451.54,413.1) scale(1.137,1)" font-size="13.32" fill="#000" >2</text>
</svg>
</body></html>
